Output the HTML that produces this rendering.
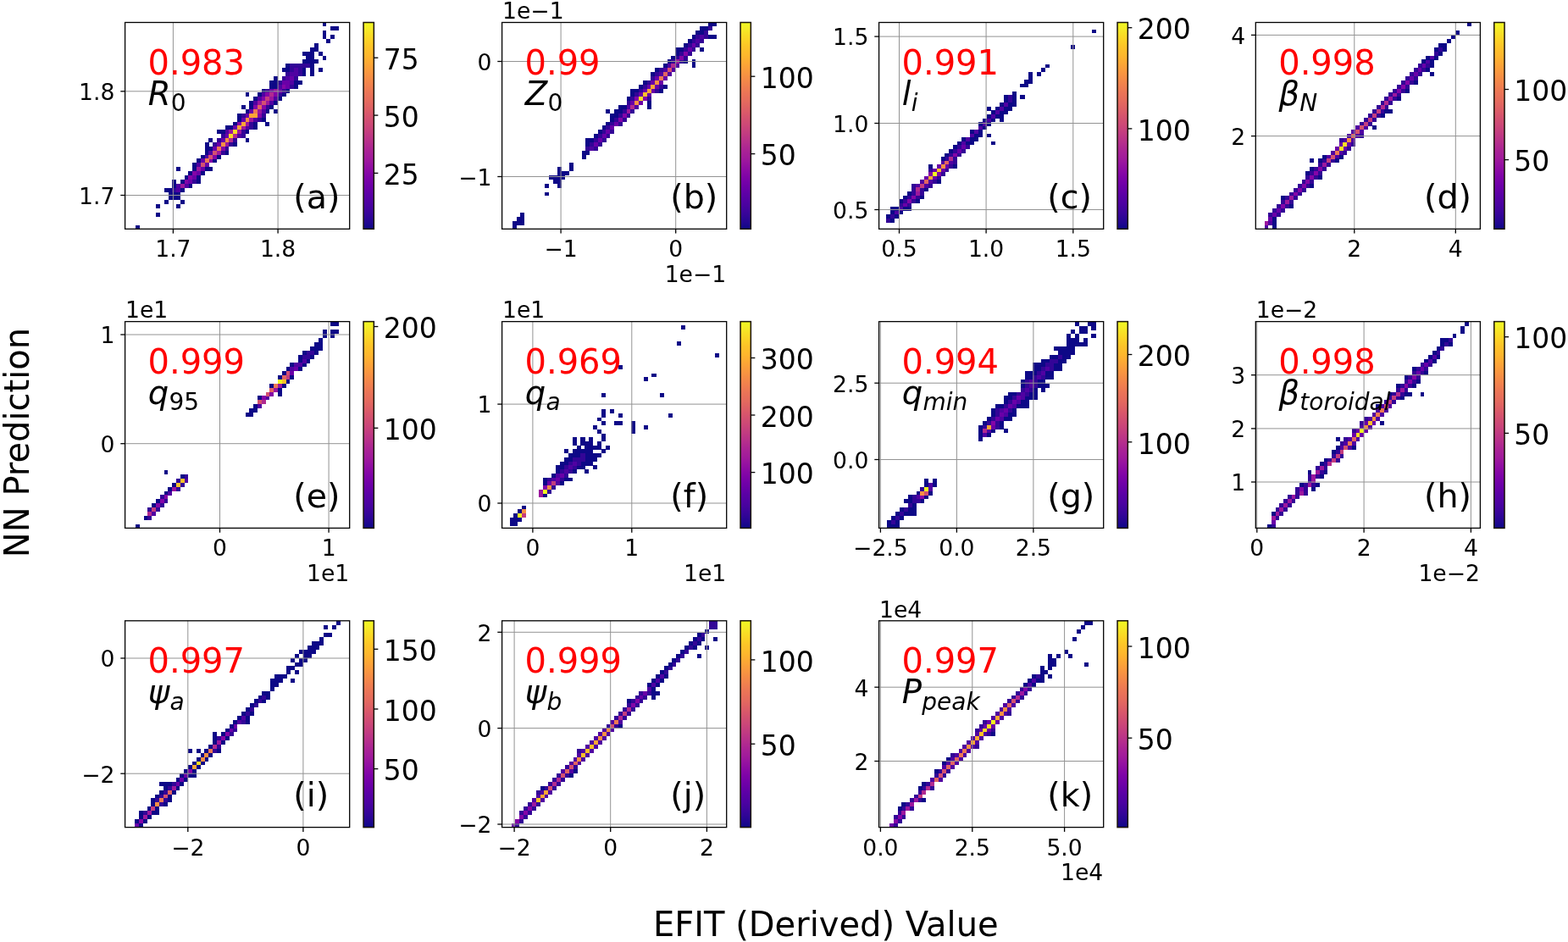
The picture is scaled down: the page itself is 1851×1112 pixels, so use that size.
<!DOCTYPE html>
<html lang="en">
<head>
<meta charset="utf-8">
<title>NN Prediction vs EFIT (Derived) Value</title>
<style>
html,body{margin:0;padding:0;background:#fff;}
body{width:1851px;height:1112px;overflow:hidden;}
svg{display:block;}
svg text{font-family:"DejaVu Sans","Liberation Sans",sans-serif;}
</style>
</head>
<body>
<svg width="1851" height="1112" viewBox="0 0 1851 1112" font-family="'DejaVu Sans', 'Liberation Sans', sans-serif" fill="#000">
<defs><linearGradient id="plasma" x1="0" y1="1" x2="0" y2="0"><stop offset="0" stop-color="#0d0887"/><stop offset="0.03" stop-color="#220690"/><stop offset="0.06" stop-color="#310597"/><stop offset="0.09" stop-color="#3f049c"/><stop offset="0.12" stop-color="#4c02a1"/><stop offset="0.16" stop-color="#5901a5"/><stop offset="0.19" stop-color="#6600a7"/><stop offset="0.22" stop-color="#7201a8"/><stop offset="0.25" stop-color="#7e03a8"/><stop offset="0.28" stop-color="#8a09a5"/><stop offset="0.31" stop-color="#9511a1"/><stop offset="0.34" stop-color="#a01a9c"/><stop offset="0.38" stop-color="#aa2395"/><stop offset="0.41" stop-color="#b32c8e"/><stop offset="0.44" stop-color="#bc3587"/><stop offset="0.47" stop-color="#c43e7f"/><stop offset="0.5" stop-color="#cc4778"/><stop offset="0.53" stop-color="#d24f71"/><stop offset="0.56" stop-color="#d9586a"/><stop offset="0.59" stop-color="#df6263"/><stop offset="0.62" stop-color="#e56b5d"/><stop offset="0.66" stop-color="#eb7556"/><stop offset="0.69" stop-color="#f07f4f"/><stop offset="0.72" stop-color="#f48948"/><stop offset="0.75" stop-color="#f89441"/><stop offset="0.78" stop-color="#fb9f3a"/><stop offset="0.81" stop-color="#fdab33"/><stop offset="0.84" stop-color="#feb72d"/><stop offset="0.88" stop-color="#fdc328"/><stop offset="0.91" stop-color="#fcd025"/><stop offset="0.94" stop-color="#f9dd25"/><stop offset="0.97" stop-color="#f5eb27"/><stop offset="1" stop-color="#f0f921"/></linearGradient><filter id="soft" x="-5%" y="-5%" width="110%" height="110%" color-interpolation-filters="sRGB"><feGaussianBlur stdDeviation="0.6"/></filter><clipPath id="clip-a"><rect x="147.6" y="26.5" width="265.1" height="243.8"/></clipPath><clipPath id="clip-b"><rect x="592.6" y="26.5" width="265.1" height="243.8"/></clipPath><clipPath id="clip-c"><rect x="1037.6" y="26.5" width="265.1" height="243.8"/></clipPath><clipPath id="clip-d"><rect x="1482.3" y="26.5" width="265.1" height="243.8"/></clipPath><clipPath id="clip-e"><rect x="147.6" y="379.6" width="265.1" height="243.8"/></clipPath><clipPath id="clip-f"><rect x="592.6" y="379.6" width="265.1" height="243.8"/></clipPath><clipPath id="clip-g"><rect x="1037.6" y="379.6" width="265.1" height="243.8"/></clipPath><clipPath id="clip-h"><rect x="1482.3" y="379.6" width="265.1" height="243.8"/></clipPath><clipPath id="clip-i"><rect x="147.6" y="732.8" width="265.1" height="243.8"/></clipPath><clipPath id="clip-j"><rect x="592.6" y="732.8" width="265.1" height="243.8"/></clipPath><clipPath id="clip-k"><rect x="1037.6" y="732.8" width="265.1" height="243.8"/></clipPath></defs>
<rect x="0" y="0" width="1851" height="1112" fill="#fff"/>
<g class="panel" id="panel-a">
<g class="cells" clip-path="url(#clip-a)"><g filter="url(#soft)" shape-rendering="crispEdges"><path fill="#0d0887" d="M160.2 265.52h4.89v4.98h-4.89zM184.15 250.89h4.89v4.98h-4.89zM184.15 241.13h4.89v4.98h-4.89zM193.73 236.25h4.89v4.98h-4.89zM193.73 221.62h4.89v4.98h-4.89zM198.52 231.38h4.89v4.98h-4.89zM198.52 226.5h4.89v4.98h-4.89zM198.52 221.62h4.89v4.98h-4.89zM203.31 231.38h4.89v4.98h-4.89zM203.31 226.5h4.89v4.98h-4.89zM203.31 216.74h4.89v4.98h-4.89zM203.31 211.86h4.89v4.98h-4.89zM208.1 241.13h4.89v4.98h-4.89zM208.1 231.38h4.89v4.98h-4.89zM208.1 226.5h4.89v4.98h-4.89zM208.1 197.23h4.89v4.98h-4.89zM212.89 236.25h4.89v4.98h-4.89zM212.89 221.62h4.89v4.98h-4.89zM212.89 211.86h4.89v4.98h-4.89zM217.68 206.99h4.89v4.98h-4.89zM222.47 216.74h4.89v4.98h-4.89zM222.47 202.11h4.89v4.98h-4.89zM227.26 197.23h4.89v4.98h-4.89zM227.26 192.35h4.89v4.98h-4.89zM232.05 211.86h4.89v4.98h-4.89zM232.05 206.99h4.89v4.98h-4.89zM232.05 187.47h4.89v4.98h-4.89zM236.84 202.11h4.89v4.98h-4.89zM236.84 182.6h4.89v4.98h-4.89zM241.63 197.23h4.89v4.98h-4.89zM241.63 177.72h4.89v4.98h-4.89zM241.63 172.84h4.89v4.98h-4.89zM241.63 167.96h4.89v4.98h-4.89zM246.42 197.23h4.89v4.98h-4.89zM246.42 172.84h4.89v4.98h-4.89zM246.42 163.08h4.89v4.98h-4.89zM251.21 187.47h4.89v4.98h-4.89zM256 182.6h4.89v4.98h-4.89zM256 153.33h4.89v4.98h-4.89zM260.79 153.33h4.89v4.98h-4.89zM265.58 177.72h4.89v4.98h-4.89zM265.58 148.45h4.89v4.98h-4.89zM270.37 148.45h4.89v4.98h-4.89zM275.16 167.96h4.89v4.98h-4.89zM275.16 143.57h4.89v4.98h-4.89zM279.95 138.69h4.89v4.98h-4.89zM279.95 133.82h4.89v4.98h-4.89zM284.74 124.06h4.89v4.98h-4.89zM289.53 163.08h4.89v4.98h-4.89zM289.53 153.33h4.89v4.98h-4.89zM289.53 128.94h4.89v4.98h-4.89zM289.53 109.43h4.89v4.98h-4.89zM294.32 124.06h4.89v4.98h-4.89zM294.32 119.18h4.89v4.98h-4.89zM299.11 148.45h4.89v4.98h-4.89zM299.11 143.57h4.89v4.98h-4.89zM299.11 114.3h4.89v4.98h-4.89zM303.9 109.43h4.89v4.98h-4.89zM308.69 138.69h4.89v4.98h-4.89zM308.69 104.55h4.89v4.98h-4.89zM313.48 143.57h4.89v4.98h-4.89zM313.48 128.94h4.89v4.98h-4.89zM318.27 124.06h4.89v4.98h-4.89zM318.27 99.67h4.89v4.98h-4.89zM318.27 94.79h4.89v4.98h-4.89zM323.06 128.94h4.89v4.98h-4.89zM323.06 119.18h4.89v4.98h-4.89zM323.06 99.67h4.89v4.98h-4.89zM323.06 94.79h4.89v4.98h-4.89zM323.06 89.91h4.89v4.98h-4.89zM327.85 114.3h4.89v4.98h-4.89zM332.64 109.43h4.89v4.98h-4.89zM332.64 80.16h4.89v4.98h-4.89zM337.43 104.55h4.89v4.98h-4.89zM337.43 80.16h4.89v4.98h-4.89zM337.43 75.28h4.89v4.98h-4.89zM347.01 99.67h4.89v4.98h-4.89zM347.01 94.79h4.89v4.98h-4.89zM351.8 94.79h4.89v4.98h-4.89zM356.59 85.04h4.89v4.98h-4.89zM356.59 80.16h4.89v4.98h-4.89zM356.59 70.4h4.89v4.98h-4.89zM356.59 60.65h4.89v4.98h-4.89zM361.38 70.4h4.89v4.98h-4.89zM361.38 65.52h4.89v4.98h-4.89zM361.38 60.65h4.89v4.98h-4.89zM366.17 85.04h4.89v4.98h-4.89zM366.17 80.16h4.89v4.98h-4.89zM366.17 75.28h4.89v4.98h-4.89zM366.17 70.4h4.89v4.98h-4.89zM366.17 65.52h4.89v4.98h-4.89zM366.17 60.65h4.89v4.98h-4.89zM366.17 55.77h4.89v4.98h-4.89zM370.96 70.4h4.89v4.98h-4.89zM370.96 55.77h4.89v4.98h-4.89zM370.96 50.89h4.89v4.98h-4.89zM375.75 80.16h4.89v4.98h-4.89zM375.75 60.65h4.89v4.98h-4.89zM380.54 65.52h4.89v4.98h-4.89zM380.54 41.13h4.89v4.98h-4.89zM380.54 36.26h4.89v4.98h-4.89zM380.54 26.5h4.89v4.98h-4.89zM385.33 46.01h4.89v4.98h-4.89zM390.12 41.13h4.89v4.98h-4.89zM390.12 31.38h4.89v4.98h-4.89zM394.91 31.38h4.89v4.98h-4.89z"/><path fill="#330597" d="M203.31 221.62h4.89v4.98h-4.89zM227.26 211.86h4.89v4.98h-4.89zM251.21 167.96h4.89v4.98h-4.89zM256 163.08h4.89v4.98h-4.89zM260.79 177.72h4.89v4.98h-4.89zM260.79 158.21h4.89v4.98h-4.89zM265.58 172.84h4.89v4.98h-4.89zM270.37 167.96h4.89v4.98h-4.89zM275.16 163.08h4.89v4.98h-4.89zM284.74 158.21h4.89v4.98h-4.89zM284.74 153.33h4.89v4.98h-4.89zM284.74 133.82h4.89v4.98h-4.89zM294.32 148.45h4.89v4.98h-4.89zM294.32 143.57h4.89v4.98h-4.89zM303.9 138.69h4.89v4.98h-4.89zM308.69 133.82h4.89v4.98h-4.89zM313.48 124.06h4.89v4.98h-4.89zM313.48 104.55h4.89v4.98h-4.89zM327.85 109.43h4.89v4.98h-4.89zM327.85 94.79h4.89v4.98h-4.89zM332.64 104.55h4.89v4.98h-4.89zM332.64 89.91h4.89v4.98h-4.89zM337.43 85.04h4.89v4.98h-4.89zM342.22 99.67h4.89v4.98h-4.89zM342.22 80.16h4.89v4.98h-4.89zM342.22 75.28h4.89v4.98h-4.89zM347.01 89.91h4.89v4.98h-4.89zM347.01 75.28h4.89v4.98h-4.89zM351.8 85.04h4.89v4.98h-4.89zM351.8 80.16h4.89v4.98h-4.89zM351.8 75.28h4.89v4.98h-4.89zM356.59 75.28h4.89v4.98h-4.89zM361.38 75.28h4.89v4.98h-4.89z"/><path fill="#5002a2" d="M208.1 221.62h4.89v4.98h-4.89zM208.1 216.74h4.89v4.98h-4.89zM217.68 216.74h4.89v4.98h-4.89zM232.05 192.35h4.89v4.98h-4.89zM241.63 182.6h4.89v4.98h-4.89zM246.42 177.72h4.89v4.98h-4.89zM265.58 153.33h4.89v4.98h-4.89zM279.95 158.21h4.89v4.98h-4.89zM289.53 148.45h4.89v4.98h-4.89zM299.11 138.69h4.89v4.98h-4.89zM299.11 119.18h4.89v4.98h-4.89zM303.9 114.3h4.89v4.98h-4.89zM308.69 128.94h4.89v4.98h-4.89zM308.69 109.43h4.89v4.98h-4.89zM318.27 119.18h4.89v4.98h-4.89zM323.06 114.3h4.89v4.98h-4.89zM327.85 99.67h4.89v4.98h-4.89zM337.43 89.91h4.89v4.98h-4.89zM342.22 94.79h4.89v4.98h-4.89zM342.22 85.04h4.89v4.98h-4.89zM347.01 85.04h4.89v4.98h-4.89zM347.01 80.16h4.89v4.98h-4.89z"/><path fill="#9c179e" d="M212.89 216.74h4.89v4.98h-4.89zM232.05 197.23h4.89v4.98h-4.89zM256 177.72h4.89v4.98h-4.89zM265.58 167.96h4.89v4.98h-4.89zM270.37 153.33h4.89v4.98h-4.89zM279.95 153.33h4.89v4.98h-4.89zM284.74 148.45h4.89v4.98h-4.89zM289.53 143.57h4.89v4.98h-4.89zM294.32 138.69h4.89v4.98h-4.89zM303.9 128.94h4.89v4.98h-4.89zM303.9 119.18h4.89v4.98h-4.89zM313.48 119.18h4.89v4.98h-4.89zM318.27 114.3h4.89v4.98h-4.89zM323.06 104.55h4.89v4.98h-4.89z"/><path fill="#8405a7" d="M217.68 211.86h4.89v4.98h-4.89zM222.47 206.99h4.89v4.98h-4.89zM227.26 202.11h4.89v4.98h-4.89zM246.42 187.47h4.89v4.98h-4.89zM251.21 182.6h4.89v4.98h-4.89zM260.79 172.84h4.89v4.98h-4.89zM279.95 143.57h4.89v4.98h-4.89zM299.11 124.06h4.89v4.98h-4.89zM303.9 133.82h4.89v4.98h-4.89zM308.69 124.06h4.89v4.98h-4.89zM308.69 114.3h4.89v4.98h-4.89zM313.48 109.43h4.89v4.98h-4.89zM323.06 109.43h4.89v4.98h-4.89zM332.64 99.67h4.89v4.98h-4.89z"/><path fill="#6a00a8" d="M222.47 211.86h4.89v4.98h-4.89zM227.26 206.99h4.89v4.98h-4.89zM232.05 202.11h4.89v4.98h-4.89zM236.84 197.23h4.89v4.98h-4.89zM236.84 187.47h4.89v4.98h-4.89zM241.63 192.35h4.89v4.98h-4.89zM251.21 172.84h4.89v4.98h-4.89zM256 167.96h4.89v4.98h-4.89zM260.79 163.08h4.89v4.98h-4.89zM265.58 158.21h4.89v4.98h-4.89zM275.16 148.45h4.89v4.98h-4.89zM284.74 138.69h4.89v4.98h-4.89zM289.53 133.82h4.89v4.98h-4.89zM294.32 128.94h4.89v4.98h-4.89zM318.27 104.55h4.89v4.98h-4.89zM327.85 104.55h4.89v4.98h-4.89zM332.64 94.79h4.89v4.98h-4.89zM337.43 99.67h4.89v4.98h-4.89zM337.43 94.79h4.89v4.98h-4.89zM342.22 89.91h4.89v4.98h-4.89z"/><path fill="#d35171" d="M236.84 192.35h4.89v4.98h-4.89zM246.42 182.6h4.89v4.98h-4.89zM251.21 177.72h4.89v4.98h-4.89zM308.69 119.18h4.89v4.98h-4.89z"/><path fill="#ed7953" d="M241.63 187.47h4.89v4.98h-4.89zM256 172.84h4.89v4.98h-4.89zM299.11 128.94h4.89v4.98h-4.89z"/><path fill="#f68f44" d="M260.79 167.96h4.89v4.98h-4.89zM265.58 163.08h4.89v4.98h-4.89zM289.53 138.69h4.89v4.98h-4.89z"/><path fill="#b12a90" d="M270.37 163.08h4.89v4.98h-4.89zM275.16 158.21h4.89v4.98h-4.89zM318.27 109.43h4.89v4.98h-4.89z"/><path fill="#f9dc24" d="M270.37 158.21h4.89v4.98h-4.89zM275.16 153.33h4.89v4.98h-4.89z"/><path fill="#fca636" d="M279.95 148.45h4.89v4.98h-4.89zM284.74 143.57h4.89v4.98h-4.89zM294.32 133.82h4.89v4.98h-4.89zM299.11 133.82h4.89v4.98h-4.89z"/><path fill="#e16462" d="M303.9 124.06h4.89v4.98h-4.89z"/><path fill="#c33d80" d="M313.48 114.3h4.89v4.98h-4.89z"/></g></g>
<g class="grid" stroke="#939393" stroke-width="1.0"><line x1="204.4" y1="26.5" x2="204.4" y2="270.3"/><line x1="328.1" y1="26.5" x2="328.1" y2="270.3"/><line x1="147.6" y1="107.8" x2="412.7" y2="107.8"/><line x1="147.6" y1="230.5" x2="412.7" y2="230.5"/></g>
<g class="ticks" stroke="#000" stroke-width="1.3"><line x1="204.4" y1="270.3" x2="204.4" y2="275.6"/><line x1="328.1" y1="270.3" x2="328.1" y2="275.6"/><line x1="142.3" y1="107.8" x2="147.6" y2="107.8"/><line x1="142.3" y1="230.5" x2="147.6" y2="230.5"/></g>
<rect class="frame" x="147.6" y="26.5" width="265.1" height="243.8" fill="none" stroke="#000" stroke-width="1.3"/>
<text class="r" x="174.5" y="87.5" font-size="40.0" fill="#ff0000">0.983</text>
<text class="sym" x="174.8" y="123.5" font-size="38.6" font-style="italic">R<tspan font-size="28.0" font-style="normal" dx="0.2" dy="7.8">0</tspan></text>
<text class="lab" x="346.3" y="246" font-size="39.6">(a)</text>
<g class="ticklabels" font-size="26.6"><text x="204.4" y="303.3" text-anchor="middle">1.7</text><text x="328.1" y="303.3" text-anchor="middle">1.8</text><text x="135.4" y="118.1" text-anchor="end">1.8</text><text x="135.4" y="240.8" text-anchor="end">1.7</text></g>
<rect class="cbar" x="429.05" y="26.5" width="12.3" height="243.8" fill="url(#plasma)" stroke="#1a1208" stroke-width="1.5"/>
<g class="cticks" stroke="#000" stroke-width="1.3"><line x1="441.35" y1="68.2" x2="446.35" y2="68.2"/><line x1="441.35" y1="136.1" x2="446.35" y2="136.1"/><line x1="441.35" y1="204.4" x2="446.35" y2="204.4"/></g>
<g class="clabels" font-size="33.0"><text x="452.65" y="81.9">75</text><text x="452.65" y="149.8">50</text><text x="452.65" y="218.1">25</text></g>
</g>
<g class="panel" id="panel-b">
<g class="cells" clip-path="url(#clip-b)"><g filter="url(#soft)" shape-rendering="crispEdges"><path fill="#0d0887" d="M604.8 265.52h4.91v4.98h-4.91zM604.8 260.64h4.91v4.98h-4.91zM609.61 260.64h4.91v4.98h-4.91zM609.61 255.77h4.91v4.98h-4.91zM614.42 260.64h4.91v4.98h-4.91zM614.42 255.77h4.91v4.98h-4.91zM614.42 250.89h4.91v4.98h-4.91zM643.3 226.5h4.91v4.98h-4.91zM643.3 216.74h4.91v4.98h-4.91zM648.11 206.99h4.91v4.98h-4.91zM652.92 211.86h4.91v4.98h-4.91zM652.92 206.99h4.91v4.98h-4.91zM657.73 216.74h4.91v4.98h-4.91zM657.73 211.86h4.91v4.98h-4.91zM657.73 206.99h4.91v4.98h-4.91zM657.73 202.11h4.91v4.98h-4.91zM657.73 197.23h4.91v4.98h-4.91zM662.54 206.99h4.91v4.98h-4.91zM662.54 202.11h4.91v4.98h-4.91zM667.36 202.11h4.91v4.98h-4.91zM672.17 197.23h4.91v4.98h-4.91zM672.17 192.35h4.91v4.98h-4.91zM686.6 182.6h4.91v4.98h-4.91zM686.6 177.72h4.91v4.98h-4.91zM691.42 177.72h4.91v4.98h-4.91zM691.42 167.96h4.91v4.98h-4.91zM691.42 163.08h4.91v4.98h-4.91zM696.23 163.08h4.91v4.98h-4.91zM701.04 158.21h4.91v4.98h-4.91zM705.85 153.33h4.91v4.98h-4.91zM710.66 148.45h4.91v4.98h-4.91zM715.48 143.57h4.91v4.98h-4.91zM715.48 128.94h4.91v4.98h-4.91zM720.29 138.69h4.91v4.98h-4.91zM720.29 133.82h4.91v4.98h-4.91zM725.1 133.82h4.91v4.98h-4.91zM725.1 128.94h4.91v4.98h-4.91zM729.91 128.94h4.91v4.98h-4.91zM729.91 124.06h4.91v4.98h-4.91zM734.72 124.06h4.91v4.98h-4.91zM739.54 114.3h4.91v4.98h-4.91zM744.35 109.43h4.91v4.98h-4.91zM744.35 104.55h4.91v4.98h-4.91zM749.16 104.55h4.91v4.98h-4.91zM753.97 99.67h4.91v4.98h-4.91zM758.78 94.79h4.91v4.98h-4.91zM763.6 124.06h4.91v4.98h-4.91zM763.6 119.18h4.91v4.98h-4.91zM768.41 85.04h4.91v4.98h-4.91zM773.22 80.16h4.91v4.98h-4.91zM778.03 104.55h4.91v4.98h-4.91zM782.84 99.67h4.91v4.98h-4.91zM782.84 75.28h4.91v4.98h-4.91zM787.66 70.4h4.91v4.98h-4.91zM792.47 65.52h4.91v4.98h-4.91zM797.28 60.65h4.91v4.98h-4.91zM797.28 55.77h4.91v4.98h-4.91zM802.09 55.77h4.91v4.98h-4.91zM806.9 70.4h4.91v4.98h-4.91zM806.9 50.89h4.91v4.98h-4.91zM811.72 46.01h4.91v4.98h-4.91zM816.53 75.28h4.91v4.98h-4.91zM816.53 70.4h4.91v4.98h-4.91zM816.53 41.13h4.91v4.98h-4.91zM821.34 36.26h4.91v4.98h-4.91zM826.15 55.77h4.91v4.98h-4.91zM826.15 36.26h4.91v4.98h-4.91zM826.15 31.38h4.91v4.98h-4.91zM830.96 31.38h4.91v4.98h-4.91zM835.78 41.13h4.91v4.98h-4.91zM835.78 26.5h4.91v4.98h-4.91zM840.59 41.13h4.91v4.98h-4.91zM840.59 26.5h4.91v4.98h-4.91z"/><path fill="#330597" d="M691.42 172.84h4.91v4.98h-4.91zM696.23 167.96h4.91v4.98h-4.91zM701.04 172.84h4.91v4.98h-4.91zM701.04 163.08h4.91v4.98h-4.91zM705.85 167.96h4.91v4.98h-4.91zM705.85 158.21h4.91v4.98h-4.91zM710.66 163.08h4.91v4.98h-4.91zM710.66 153.33h4.91v4.98h-4.91zM715.48 158.21h4.91v4.98h-4.91zM715.48 148.45h4.91v4.98h-4.91zM720.29 153.33h4.91v4.98h-4.91zM720.29 143.57h4.91v4.98h-4.91zM725.1 138.69h4.91v4.98h-4.91zM729.91 143.57h4.91v4.98h-4.91zM729.91 133.82h4.91v4.98h-4.91zM734.72 138.69h4.91v4.98h-4.91zM734.72 128.94h4.91v4.98h-4.91zM739.54 133.82h4.91v4.98h-4.91zM739.54 119.18h4.91v4.98h-4.91zM744.35 128.94h4.91v4.98h-4.91zM744.35 114.3h4.91v4.98h-4.91zM749.16 109.43h4.91v4.98h-4.91zM753.97 104.55h4.91v4.98h-4.91zM758.78 99.67h4.91v4.98h-4.91zM763.6 114.3h4.91v4.98h-4.91zM763.6 94.79h4.91v4.98h-4.91zM768.41 89.91h4.91v4.98h-4.91zM773.22 104.55h4.91v4.98h-4.91zM773.22 85.04h4.91v4.98h-4.91zM778.03 99.67h4.91v4.98h-4.91zM778.03 80.16h4.91v4.98h-4.91zM792.47 70.4h4.91v4.98h-4.91zM797.28 65.52h4.91v4.98h-4.91zM802.09 70.4h4.91v4.98h-4.91zM802.09 60.65h4.91v4.98h-4.91zM806.9 65.52h4.91v4.98h-4.91zM806.9 55.77h4.91v4.98h-4.91zM811.72 60.65h4.91v4.98h-4.91zM811.72 50.89h4.91v4.98h-4.91zM816.53 55.77h4.91v4.98h-4.91zM816.53 46.01h4.91v4.98h-4.91zM821.34 50.89h4.91v4.98h-4.91zM821.34 41.13h4.91v4.98h-4.91zM826.15 46.01h4.91v4.98h-4.91zM830.96 41.13h4.91v4.98h-4.91zM830.96 36.26h4.91v4.98h-4.91zM835.78 31.38h4.91v4.98h-4.91z"/><path fill="#5002a2" d="M696.23 172.84h4.91v4.98h-4.91zM739.54 124.06h4.91v4.98h-4.91zM749.16 124.06h4.91v4.98h-4.91zM778.03 85.04h4.91v4.98h-4.91zM782.84 80.16h4.91v4.98h-4.91zM787.66 85.04h4.91v4.98h-4.91zM787.66 75.28h4.91v4.98h-4.91zM792.47 80.16h4.91v4.98h-4.91zM797.28 75.28h4.91v4.98h-4.91zM821.34 46.01h4.91v4.98h-4.91zM826.15 41.13h4.91v4.98h-4.91z"/><path fill="#6a00a8" d="M701.04 167.96h4.91v4.98h-4.91zM705.85 163.08h4.91v4.98h-4.91zM710.66 158.21h4.91v4.98h-4.91zM715.48 153.33h4.91v4.98h-4.91zM720.29 148.45h4.91v4.98h-4.91zM725.1 143.57h4.91v4.98h-4.91zM744.35 119.18h4.91v4.98h-4.91zM753.97 119.18h4.91v4.98h-4.91zM753.97 109.43h4.91v4.98h-4.91zM758.78 104.55h4.91v4.98h-4.91zM763.6 109.43h4.91v4.98h-4.91zM763.6 99.67h4.91v4.98h-4.91zM768.41 104.55h4.91v4.98h-4.91zM768.41 94.79h4.91v4.98h-4.91zM773.22 99.67h4.91v4.98h-4.91zM773.22 89.91h4.91v4.98h-4.91zM778.03 94.79h4.91v4.98h-4.91zM782.84 89.91h4.91v4.98h-4.91zM811.72 55.77h4.91v4.98h-4.91zM816.53 50.89h4.91v4.98h-4.91z"/><path fill="#8405a7" d="M729.91 138.69h4.91v4.98h-4.91zM734.72 133.82h4.91v4.98h-4.91zM749.16 114.3h4.91v4.98h-4.91zM758.78 114.3h4.91v4.98h-4.91zM802.09 65.52h4.91v4.98h-4.91zM806.9 60.65h4.91v4.98h-4.91z"/><path fill="#9c179e" d="M739.54 128.94h4.91v4.98h-4.91zM797.28 70.4h4.91v4.98h-4.91z"/><path fill="#b12a90" d="M744.35 124.06h4.91v4.98h-4.91zM792.47 75.28h4.91v4.98h-4.91z"/><path fill="#f68f44" d="M749.16 119.18h4.91v4.98h-4.91zM773.22 94.79h4.91v4.98h-4.91z"/><path fill="#f9dc24" d="M753.97 114.3h4.91v4.98h-4.91z"/><path fill="#fec029" d="M758.78 109.43h4.91v4.98h-4.91z"/><path fill="#fca636" d="M763.6 104.55h4.91v4.98h-4.91zM768.41 99.67h4.91v4.98h-4.91z"/><path fill="#ed7953" d="M778.03 89.91h4.91v4.98h-4.91z"/><path fill="#e16462" d="M782.84 85.04h4.91v4.98h-4.91z"/><path fill="#d35171" d="M787.66 80.16h4.91v4.98h-4.91z"/></g></g>
<g class="grid" stroke="#939393" stroke-width="1.0"><line x1="662.1" y1="26.5" x2="662.1" y2="270.3"/><line x1="797.7" y1="26.5" x2="797.7" y2="270.3"/><line x1="592.6" y1="72.5" x2="857.7" y2="72.5"/><line x1="592.6" y1="208.5" x2="857.7" y2="208.5"/></g>
<g class="ticks" stroke="#000" stroke-width="1.3"><line x1="662.1" y1="270.3" x2="662.1" y2="275.6"/><line x1="797.7" y1="270.3" x2="797.7" y2="275.6"/><line x1="587.3" y1="72.5" x2="592.6" y2="72.5"/><line x1="587.3" y1="208.5" x2="592.6" y2="208.5"/></g>
<rect class="frame" x="592.6" y="26.5" width="265.1" height="243.8" fill="none" stroke="#000" stroke-width="1.3"/>
<text class="r" x="619.5" y="87.5" font-size="40.0" fill="#ff0000">0.99</text>
<text class="sym" x="619.8" y="123.5" font-size="38.6" font-style="italic">Z<tspan font-size="28.0" font-style="normal" dx="0.2" dy="7.8">0</tspan></text>
<text class="lab" x="791.3" y="246" font-size="39.6">(b)</text>
<g class="ticklabels" font-size="26.6"><text x="662.1" y="303.3" text-anchor="middle">−1</text><text x="797.7" y="303.3" text-anchor="middle">0</text><text x="580.4" y="82.8" text-anchor="end">0</text><text x="580.4" y="218.8" text-anchor="end">−1</text><text x="593.1" y="22.3" text-anchor="start">1e−1</text><text x="857.2" y="332.5" text-anchor="end">1e−1</text></g>
<rect class="cbar" x="874.05" y="26.5" width="12.3" height="243.8" fill="url(#plasma)" stroke="#1a1208" stroke-width="1.5"/>
<g class="cticks" stroke="#000" stroke-width="1.3"><line x1="886.35" y1="90.2" x2="891.35" y2="90.2"/><line x1="886.35" y1="181.6" x2="891.35" y2="181.6"/></g>
<g class="clabels" font-size="33.0"><text x="897.65" y="103.9">100</text><text x="897.65" y="195.3">50</text></g>
</g>
<g class="panel" id="panel-c">
<g class="cells" clip-path="url(#clip-c)"><g filter="url(#soft)" shape-rendering="crispEdges"><path fill="#330597" d="M1046.2 257.9h5.05v4.65h-5.05zM1051.15 253.34h5.05v4.65h-5.05zM1061.04 239.69h5.05v4.65h-5.05zM1065.98 235.13h5.05v4.65h-5.05zM1070.93 239.69h5.05v4.65h-5.05zM1070.93 230.58h5.05v4.65h-5.05zM1075.88 235.13h5.05v4.65h-5.05zM1075.88 226.03h5.05v4.65h-5.05zM1075.88 221.47h5.05v4.65h-5.05zM1075.88 216.92h5.05v4.65h-5.05zM1080.82 230.58h5.05v4.65h-5.05zM1085.77 226.03h5.05v4.65h-5.05zM1085.77 221.47h5.05v4.65h-5.05zM1095.66 216.92h5.05v4.65h-5.05zM1095.66 198.71h5.05v4.65h-5.05zM1100.61 212.37h5.05v4.65h-5.05zM1105.55 207.81h5.05v4.65h-5.05zM1110.5 203.26h5.05v4.65h-5.05zM1115.44 198.71h5.05v4.65h-5.05zM1115.44 185.05h5.05v4.65h-5.05zM1120.39 194.15h5.05v4.65h-5.05zM1120.39 180.5h5.05v4.65h-5.05zM1125.34 189.6h5.05v4.65h-5.05zM1125.34 185.05h5.05v4.65h-5.05zM1125.34 175.94h5.05v4.65h-5.05zM1130.28 180.5h5.05v4.65h-5.05zM1130.28 171.39h5.05v4.65h-5.05zM1135.23 175.94h5.05v4.65h-5.05zM1140.17 171.39h5.05v4.65h-5.05zM1189.63 116.75h5.05v4.65h-5.05zM1189.63 112.2h5.05v4.65h-5.05z"/><path fill="#0d0887" d="M1046.2 253.34h5.05v4.65h-5.05zM1051.15 257.9h5.05v4.65h-5.05zM1051.15 248.79h5.05v4.65h-5.05zM1051.15 244.24h5.05v4.65h-5.05zM1056.09 253.34h5.05v4.65h-5.05zM1056.09 244.24h5.05v4.65h-5.05zM1061.04 248.79h5.05v4.65h-5.05zM1061.04 235.13h5.05v4.65h-5.05zM1065.98 244.24h5.05v4.65h-5.05zM1065.98 230.58h5.05v4.65h-5.05zM1070.93 244.24h5.05v4.65h-5.05zM1070.93 226.03h5.05v4.65h-5.05zM1080.82 235.13h5.05v4.65h-5.05zM1085.77 230.58h5.05v4.65h-5.05zM1090.71 221.47h5.05v4.65h-5.05zM1095.66 194.15h5.05v4.65h-5.05zM1105.55 212.37h5.05v4.65h-5.05zM1110.5 185.05h5.05v4.65h-5.05zM1115.44 180.5h5.05v4.65h-5.05zM1120.39 175.94h5.05v4.65h-5.05zM1125.34 194.15h5.05v4.65h-5.05zM1125.34 171.39h5.05v4.65h-5.05zM1130.28 166.84h5.05v4.65h-5.05zM1135.23 162.28h5.05v4.65h-5.05zM1140.17 166.84h5.05v4.65h-5.05zM1145.12 166.84h5.05v4.65h-5.05zM1145.12 162.28h5.05v4.65h-5.05zM1145.12 153.18h5.05v4.65h-5.05zM1150.07 162.28h5.05v4.65h-5.05zM1150.07 157.73h5.05v4.65h-5.05zM1155.01 157.73h5.05v4.65h-5.05zM1155.01 153.18h5.05v4.65h-5.05zM1155.01 144.07h5.05v4.65h-5.05zM1159.96 148.62h5.05v4.65h-5.05zM1159.96 139.52h5.05v4.65h-5.05zM1164.9 157.73h5.05v4.65h-5.05zM1164.9 144.07h5.05v4.65h-5.05zM1164.9 134.97h5.05v4.65h-5.05zM1164.9 125.86h5.05v4.65h-5.05zM1169.85 166.84h5.05v4.65h-5.05zM1169.85 139.52h5.05v4.65h-5.05zM1169.85 130.41h5.05v4.65h-5.05zM1174.8 134.97h5.05v4.65h-5.05zM1174.8 125.86h5.05v4.65h-5.05zM1179.74 139.52h5.05v4.65h-5.05zM1179.74 134.97h5.05v4.65h-5.05zM1179.74 130.41h5.05v4.65h-5.05zM1179.74 121.31h5.05v4.65h-5.05zM1184.69 130.41h5.05v4.65h-5.05zM1184.69 125.86h5.05v4.65h-5.05zM1184.69 116.75h5.05v4.65h-5.05zM1184.69 112.2h5.05v4.65h-5.05zM1189.63 125.86h5.05v4.65h-5.05zM1189.63 121.31h5.05v4.65h-5.05zM1194.58 121.31h5.05v4.65h-5.05zM1194.58 116.75h5.05v4.65h-5.05zM1194.58 112.2h5.05v4.65h-5.05zM1194.58 107.65h5.05v4.65h-5.05zM1204.47 112.2h5.05v4.65h-5.05zM1204.47 98.54h5.05v4.65h-5.05zM1209.42 98.54h5.05v4.65h-5.05zM1209.42 93.99h5.05v4.65h-5.05zM1214.36 93.99h5.05v4.65h-5.05zM1214.36 89.44h5.05v4.65h-5.05zM1214.36 84.88h5.05v4.65h-5.05zM1224.26 84.88h5.05v4.65h-5.05zM1229.2 80.33h5.05v4.65h-5.05zM1234.15 75.78h5.05v4.65h-5.05zM1263.82 53.01h5.05v4.65h-5.05zM1288.55 34.8h5.05v4.65h-5.05z"/><path fill="#5002a2" d="M1056.09 248.79h5.05v4.65h-5.05zM1061.04 244.24h5.05v4.65h-5.05zM1080.82 216.92h5.05v4.65h-5.05zM1085.77 212.37h5.05v4.65h-5.05zM1090.71 216.92h5.05v4.65h-5.05zM1095.66 212.37h5.05v4.65h-5.05zM1110.5 189.6h5.05v4.65h-5.05zM1120.39 189.6h5.05v4.65h-5.05zM1135.23 166.84h5.05v4.65h-5.05zM1140.17 162.28h5.05v4.65h-5.05zM1145.12 157.73h5.05v4.65h-5.05zM1150.07 153.18h5.05v4.65h-5.05zM1155.01 148.62h5.05v4.65h-5.05zM1159.96 144.07h5.05v4.65h-5.05zM1164.9 139.52h5.05v4.65h-5.05zM1169.85 134.97h5.05v4.65h-5.05zM1174.8 130.41h5.05v4.65h-5.05zM1179.74 125.86h5.05v4.65h-5.05zM1184.69 121.31h5.05v4.65h-5.05z"/><path fill="#6a00a8" d="M1065.98 239.69h5.05v4.65h-5.05zM1090.71 207.81h5.05v4.65h-5.05zM1100.61 207.81h5.05v4.65h-5.05zM1100.61 198.71h5.05v4.65h-5.05zM1105.55 194.15h5.05v4.65h-5.05zM1110.5 198.71h5.05v4.65h-5.05zM1115.44 194.15h5.05v4.65h-5.05zM1130.28 175.94h5.05v4.65h-5.05zM1135.23 171.39h5.05v4.65h-5.05z"/><path fill="#8405a7" d="M1070.93 235.13h5.05v4.65h-5.05zM1075.88 230.58h5.05v4.65h-5.05zM1095.66 203.26h5.05v4.65h-5.05zM1105.55 203.26h5.05v4.65h-5.05zM1125.34 180.5h5.05v4.65h-5.05z"/><path fill="#9c179e" d="M1080.82 226.03h5.05v4.65h-5.05z"/><path fill="#b12a90" d="M1080.82 221.47h5.05v4.65h-5.05zM1120.39 185.05h5.05v4.65h-5.05z"/><path fill="#c33d80" d="M1085.77 216.92h5.05v4.65h-5.05z"/><path fill="#e16462" d="M1090.71 212.37h5.05v4.65h-5.05zM1115.44 189.6h5.05v4.65h-5.05z"/><path fill="#fca636" d="M1095.66 207.81h5.05v4.65h-5.05z"/><path fill="#f0f921" d="M1100.61 203.26h5.05v4.65h-5.05z"/><path fill="#fec029" d="M1105.55 198.71h5.05v4.65h-5.05z"/><path fill="#f68f44" d="M1110.5 194.15h5.05v4.65h-5.05z"/></g></g>
<g class="grid" stroke="#939393" stroke-width="1.0"><line x1="1061.5" y1="26.5" x2="1061.5" y2="270.3"/><line x1="1164.1" y1="26.5" x2="1164.1" y2="270.3"/><line x1="1266.8" y1="26.5" x2="1266.8" y2="270.3"/><line x1="1037.6" y1="43.1" x2="1302.7" y2="43.1"/><line x1="1037.6" y1="145.5" x2="1302.7" y2="145.5"/><line x1="1037.6" y1="247.5" x2="1302.7" y2="247.5"/></g>
<g class="ticks" stroke="#000" stroke-width="1.3"><line x1="1061.5" y1="270.3" x2="1061.5" y2="275.6"/><line x1="1164.1" y1="270.3" x2="1164.1" y2="275.6"/><line x1="1266.8" y1="270.3" x2="1266.8" y2="275.6"/><line x1="1032.3" y1="43.1" x2="1037.6" y2="43.1"/><line x1="1032.3" y1="145.5" x2="1037.6" y2="145.5"/><line x1="1032.3" y1="247.5" x2="1037.6" y2="247.5"/></g>
<rect class="frame" x="1037.6" y="26.5" width="265.1" height="243.8" fill="none" stroke="#000" stroke-width="1.3"/>
<text class="r" x="1064.5" y="87.5" font-size="40.0" fill="#ff0000">0.991</text>
<text class="sym" x="1064.8" y="123.5" font-size="38.6" font-style="italic">l<tspan font-size="28.0" font-style="italic" dx="0.2" dy="7.8">i</tspan></text>
<text class="lab" x="1236.3" y="246" font-size="39.6">(c)</text>
<g class="ticklabels" font-size="26.6"><text x="1061.5" y="303.3" text-anchor="middle">0.5</text><text x="1164.1" y="303.3" text-anchor="middle">1.0</text><text x="1266.8" y="303.3" text-anchor="middle">1.5</text><text x="1025.4" y="53.4" text-anchor="end">1.5</text><text x="1025.4" y="155.8" text-anchor="end">1.0</text><text x="1025.4" y="257.8" text-anchor="end">0.5</text></g>
<rect class="cbar" x="1319.05" y="26.5" width="12.3" height="243.8" fill="url(#plasma)" stroke="#1a1208" stroke-width="1.5"/>
<g class="cticks" stroke="#000" stroke-width="1.3"><line x1="1331.35" y1="32.7" x2="1336.35" y2="32.7"/><line x1="1331.35" y1="151.9" x2="1336.35" y2="151.9"/></g>
<g class="clabels" font-size="33.0"><text x="1342.65" y="46.4">200</text><text x="1342.65" y="165.6">100</text></g>
</g>
<g class="panel" id="panel-d">
<g class="cells" clip-path="url(#clip-d)"><g filter="url(#soft)" shape-rendering="crispEdges"><path fill="#5002a2" d="M1492.5 265.52h4.99v4.98h-4.99zM1497.39 260.64h4.99v4.98h-4.99zM1565.91 182.6h4.99v4.98h-4.99zM1570.8 177.72h4.99v4.98h-4.99zM1575.7 182.6h4.99v4.98h-4.99zM1580.59 177.72h4.99v4.98h-4.99zM1585.49 163.08h4.99v4.98h-4.99zM1590.38 158.21h4.99v4.98h-4.99zM1595.27 163.08h4.99v4.98h-4.99zM1595.27 153.33h4.99v4.98h-4.99zM1600.17 158.21h4.99v4.98h-4.99zM1600.17 148.45h4.99v4.98h-4.99zM1605.06 153.33h4.99v4.98h-4.99zM1609.96 148.45h4.99v4.98h-4.99zM1683.37 70.4h4.99v4.98h-4.99zM1688.26 65.52h4.99v4.98h-4.99z"/><path fill="#9c179e" d="M1492.5 260.64h4.99v4.98h-4.99zM1516.97 236.25h4.99v4.98h-4.99zM1521.86 231.38h4.99v4.98h-4.99zM1561.02 192.35h4.99v4.98h-4.99zM1639.32 114.3h4.99v4.98h-4.99zM1644.21 109.43h4.99v4.98h-4.99z"/><path fill="#6a00a8" d="M1497.39 255.77h4.99v4.98h-4.99zM1502.29 250.89h4.99v4.98h-4.99zM1507.18 246.01h4.99v4.98h-4.99zM1575.7 172.84h4.99v4.98h-4.99zM1580.59 167.96h4.99v4.98h-4.99zM1585.49 172.84h4.99v4.98h-4.99zM1590.38 167.96h4.99v4.98h-4.99zM1663.79 89.91h4.99v4.98h-4.99zM1668.68 85.04h4.99v4.98h-4.99zM1673.58 80.16h4.99v4.98h-4.99zM1678.47 75.28h4.99v4.98h-4.99z"/><path fill="#330597" d="M1497.39 250.89h4.99v4.98h-4.99zM1502.29 246.01h4.99v4.98h-4.99zM1507.18 250.89h4.99v4.98h-4.99zM1507.18 241.13h4.99v4.98h-4.99zM1512.08 246.01h4.99v4.98h-4.99zM1512.08 236.25h4.99v4.98h-4.99zM1516.97 241.13h4.99v4.98h-4.99zM1516.97 231.38h4.99v4.98h-4.99zM1521.86 236.25h4.99v4.98h-4.99zM1521.86 226.5h4.99v4.98h-4.99zM1526.76 231.38h4.99v4.98h-4.99zM1526.76 221.62h4.99v4.98h-4.99zM1531.65 226.5h4.99v4.98h-4.99zM1531.65 216.74h4.99v4.98h-4.99zM1536.55 221.62h4.99v4.98h-4.99zM1536.55 211.86h4.99v4.98h-4.99zM1541.44 216.74h4.99v4.98h-4.99zM1541.44 206.99h4.99v4.98h-4.99zM1546.33 211.86h4.99v4.98h-4.99zM1546.33 202.11h4.99v4.98h-4.99zM1551.23 206.99h4.99v4.98h-4.99zM1551.23 197.23h4.99v4.98h-4.99zM1556.12 202.11h4.99v4.98h-4.99zM1556.12 192.35h4.99v4.98h-4.99zM1561.02 197.23h4.99v4.98h-4.99zM1561.02 187.47h4.99v4.98h-4.99zM1565.91 192.35h4.99v4.98h-4.99zM1570.8 187.47h4.99v4.98h-4.99zM1580.59 163.08h4.99v4.98h-4.99zM1585.49 177.72h4.99v4.98h-4.99zM1590.38 172.84h4.99v4.98h-4.99zM1595.27 167.96h4.99v4.98h-4.99zM1605.06 158.21h4.99v4.98h-4.99zM1605.06 143.57h4.99v4.98h-4.99zM1609.96 138.69h4.99v4.98h-4.99zM1614.85 143.57h4.99v4.98h-4.99zM1614.85 133.82h4.99v4.98h-4.99zM1619.74 138.69h4.99v4.98h-4.99zM1619.74 128.94h4.99v4.98h-4.99zM1624.64 133.82h4.99v4.98h-4.99zM1624.64 124.06h4.99v4.98h-4.99zM1629.53 128.94h4.99v4.98h-4.99zM1629.53 119.18h4.99v4.98h-4.99zM1634.43 124.06h4.99v4.98h-4.99zM1634.43 114.3h4.99v4.98h-4.99zM1639.32 119.18h4.99v4.98h-4.99zM1639.32 109.43h4.99v4.98h-4.99zM1644.21 114.3h4.99v4.98h-4.99zM1644.21 104.55h4.99v4.98h-4.99zM1649.11 109.43h4.99v4.98h-4.99zM1649.11 99.67h4.99v4.98h-4.99zM1654 104.55h4.99v4.98h-4.99zM1654 94.79h4.99v4.98h-4.99zM1658.9 99.67h4.99v4.98h-4.99zM1658.9 89.91h4.99v4.98h-4.99zM1663.79 94.79h4.99v4.98h-4.99zM1663.79 85.04h4.99v4.98h-4.99zM1668.68 89.91h4.99v4.98h-4.99zM1668.68 80.16h4.99v4.98h-4.99zM1673.58 85.04h4.99v4.98h-4.99zM1673.58 75.28h4.99v4.98h-4.99zM1678.47 80.16h4.99v4.98h-4.99zM1683.37 75.28h4.99v4.98h-4.99zM1693.15 60.65h4.99v4.98h-4.99zM1698.05 55.77h4.99v4.98h-4.99z"/><path fill="#0d0887" d="M1502.29 265.52h4.99v4.98h-4.99zM1502.29 260.64h4.99v4.98h-4.99zM1502.29 255.77h4.99v4.98h-4.99zM1512.08 231.38h4.99v4.98h-4.99zM1521.86 241.13h4.99v4.98h-4.99zM1541.44 202.11h4.99v4.98h-4.99zM1546.33 216.74h4.99v4.98h-4.99zM1546.33 197.23h4.99v4.98h-4.99zM1546.33 187.47h4.99v4.98h-4.99zM1556.12 206.99h4.99v4.98h-4.99zM1556.12 187.47h4.99v4.98h-4.99zM1561.02 182.6h4.99v4.98h-4.99zM1575.7 187.47h4.99v4.98h-4.99zM1580.59 182.6h4.99v4.98h-4.99zM1619.74 148.45h4.99v4.98h-4.99zM1629.53 133.82h4.99v4.98h-4.99zM1634.43 128.94h4.99v4.98h-4.99zM1639.32 128.94h4.99v4.98h-4.99zM1649.11 114.3h4.99v4.98h-4.99zM1658.9 104.55h4.99v4.98h-4.99zM1668.68 94.79h4.99v4.98h-4.99zM1678.47 70.4h4.99v4.98h-4.99zM1683.37 80.16h4.99v4.98h-4.99zM1683.37 65.52h4.99v4.98h-4.99zM1688.26 85.04h4.99v4.98h-4.99zM1688.26 75.28h4.99v4.98h-4.99zM1688.26 70.4h4.99v4.98h-4.99zM1693.15 65.52h4.99v4.98h-4.99zM1693.15 55.77h4.99v4.98h-4.99zM1698.05 60.65h4.99v4.98h-4.99zM1698.05 50.89h4.99v4.98h-4.99zM1702.94 55.77h4.99v4.98h-4.99zM1702.94 50.89h4.99v4.98h-4.99zM1707.84 46.01h4.99v4.98h-4.99zM1712.73 41.13h4.99v4.98h-4.99zM1717.62 36.26h4.99v4.98h-4.99zM1732.31 26.5h4.99v4.98h-4.99z"/><path fill="#8405a7" d="M1512.08 241.13h4.99v4.98h-4.99zM1526.76 226.5h4.99v4.98h-4.99zM1531.65 221.62h4.99v4.98h-4.99zM1536.55 216.74h4.99v4.98h-4.99zM1541.44 211.86h4.99v4.98h-4.99zM1546.33 206.99h4.99v4.98h-4.99zM1551.23 202.11h4.99v4.98h-4.99zM1556.12 197.23h4.99v4.98h-4.99zM1649.11 104.55h4.99v4.98h-4.99zM1654 99.67h4.99v4.98h-4.99zM1658.9 94.79h4.99v4.98h-4.99z"/><path fill="#c33d80" d="M1565.91 187.47h4.99v4.98h-4.99zM1609.96 143.57h4.99v4.98h-4.99zM1614.85 138.69h4.99v4.98h-4.99zM1619.74 133.82h4.99v4.98h-4.99zM1624.64 128.94h4.99v4.98h-4.99z"/><path fill="#d35171" d="M1570.8 182.6h4.99v4.98h-4.99zM1600.17 153.33h4.99v4.98h-4.99zM1605.06 148.45h4.99v4.98h-4.99z"/><path fill="#ed7953" d="M1575.7 177.72h4.99v4.98h-4.99z"/><path fill="#f9dc24" d="M1580.59 172.84h4.99v4.98h-4.99zM1585.49 167.96h4.99v4.98h-4.99z"/><path fill="#f68f44" d="M1590.38 163.08h4.99v4.98h-4.99z"/><path fill="#e16462" d="M1595.27 158.21h4.99v4.98h-4.99z"/><path fill="#b12a90" d="M1629.53 124.06h4.99v4.98h-4.99zM1634.43 119.18h4.99v4.98h-4.99z"/></g></g>
<g class="grid" stroke="#939393" stroke-width="1.0"><line x1="1598.8" y1="26.5" x2="1598.8" y2="270.3"/><line x1="1718.3" y1="26.5" x2="1718.3" y2="270.3"/><line x1="1482.3" y1="41.4" x2="1747.4" y2="41.4"/><line x1="1482.3" y1="160.6" x2="1747.4" y2="160.6"/></g>
<g class="ticks" stroke="#000" stroke-width="1.3"><line x1="1598.8" y1="270.3" x2="1598.8" y2="275.6"/><line x1="1718.3" y1="270.3" x2="1718.3" y2="275.6"/><line x1="1477" y1="41.4" x2="1482.3" y2="41.4"/><line x1="1477" y1="160.6" x2="1482.3" y2="160.6"/></g>
<rect class="frame" x="1482.3" y="26.5" width="265.1" height="243.8" fill="none" stroke="#000" stroke-width="1.3"/>
<text class="r" x="1509.2" y="87.5" font-size="40.0" fill="#ff0000">0.998</text>
<text class="sym" x="1509.5" y="123.5" font-size="38.6" font-style="italic">β<tspan font-size="28.0" font-style="italic" dx="0.2" dy="7.8">N</tspan></text>
<text class="lab" x="1681" y="246" font-size="39.6">(d)</text>
<g class="ticklabels" font-size="26.6"><text x="1598.8" y="303.3" text-anchor="middle">2</text><text x="1718.3" y="303.3" text-anchor="middle">4</text><text x="1470.1" y="51.7" text-anchor="end">4</text><text x="1470.1" y="170.9" text-anchor="end">2</text></g>
<rect class="cbar" x="1763.75" y="26.5" width="12.3" height="243.8" fill="url(#plasma)" stroke="#1a1208" stroke-width="1.5"/>
<g class="cticks" stroke="#000" stroke-width="1.3"><line x1="1776.05" y1="105.5" x2="1781.05" y2="105.5"/><line x1="1776.05" y1="188.6" x2="1781.05" y2="188.6"/></g>
<g class="clabels" font-size="33.0"><text x="1787.35" y="119.2">100</text><text x="1787.35" y="202.3">50</text></g>
</g>
<g class="panel" id="panel-e">
<g class="cells" clip-path="url(#clip-e)"><g filter="url(#soft)" shape-rendering="crispEdges"><path fill="#0d0887" d="M160 618.53h4.9v4.97h-4.9zM169.6 608.78h4.9v4.97h-4.9zM179.19 594.16h4.9v4.97h-4.9zM183.99 589.28h4.9v4.97h-4.9zM193.59 579.53h4.9v4.97h-4.9zM193.59 555.16h4.9v4.97h-4.9zM198.38 574.66h4.9v4.97h-4.9zM203.18 569.79h4.9v4.97h-4.9zM212.78 560.04h4.9v4.97h-4.9zM289.55 486.93h4.9v4.97h-4.9zM294.34 486.93h4.9v4.97h-4.9zM294.34 482.05h4.9v4.97h-4.9zM299.14 482.05h4.9v4.97h-4.9zM299.14 477.18h4.9v4.97h-4.9zM303.94 467.43h4.9v4.97h-4.9zM318.33 452.81h4.9v4.97h-4.9zM327.93 462.56h4.9v4.97h-4.9zM327.93 457.68h4.9v4.97h-4.9zM327.93 443.06h4.9v4.97h-4.9zM332.73 452.81h4.9v4.97h-4.9zM332.73 438.19h4.9v4.97h-4.9zM337.53 447.94h4.9v4.97h-4.9zM337.53 433.31h4.9v4.97h-4.9zM342.32 443.06h4.9v4.97h-4.9zM342.32 428.44h4.9v4.97h-4.9zM351.92 433.31h4.9v4.97h-4.9zM351.92 423.57h4.9v4.97h-4.9zM351.92 418.69h4.9v4.97h-4.9zM356.72 428.44h4.9v4.97h-4.9zM356.72 413.82h4.9v4.97h-4.9zM361.52 423.57h4.9v4.97h-4.9zM366.31 418.69h4.9v4.97h-4.9zM366.31 408.94h4.9v4.97h-4.9zM371.11 413.82h4.9v4.97h-4.9zM371.11 408.94h4.9v4.97h-4.9zM371.11 404.07h4.9v4.97h-4.9zM375.91 408.94h4.9v4.97h-4.9zM375.91 404.07h4.9v4.97h-4.9zM375.91 399.2h4.9v4.97h-4.9zM380.71 394.32h4.9v4.97h-4.9zM380.71 389.45h4.9v4.97h-4.9zM390.3 394.32h4.9v4.97h-4.9zM390.3 389.45h4.9v4.97h-4.9zM390.3 379.7h4.9v4.97h-4.9zM395.1 389.45h4.9v4.97h-4.9zM395.1 379.7h4.9v4.97h-4.9z"/><path fill="#330597" d="M174.39 608.78h4.9v4.97h-4.9zM174.39 599.03h4.9v4.97h-4.9zM183.99 599.03h4.9v4.97h-4.9zM188.79 594.16h4.9v4.97h-4.9zM188.79 584.41h4.9v4.97h-4.9zM193.59 589.28h4.9v4.97h-4.9zM207.98 574.66h4.9v4.97h-4.9zM207.98 564.91h4.9v4.97h-4.9zM212.78 569.79h4.9v4.97h-4.9zM217.58 560.04h4.9v4.97h-4.9zM356.72 418.69h4.9v4.97h-4.9zM361.52 418.69h4.9v4.97h-4.9zM361.52 413.82h4.9v4.97h-4.9zM366.31 413.82h4.9v4.97h-4.9z"/><path fill="#b12a90" d="M174.39 603.9h4.9v4.97h-4.9zM308.74 472.31h4.9v4.97h-4.9z"/><path fill="#5002a2" d="M179.19 603.9h4.9v4.97h-4.9zM198.38 579.53h4.9v4.97h-4.9zM217.58 564.91h4.9v4.97h-4.9zM303.94 477.18h4.9v4.97h-4.9zM313.54 467.43h4.9v4.97h-4.9zM342.32 433.31h4.9v4.97h-4.9zM347.12 428.44h4.9v4.97h-4.9zM351.92 428.44h4.9v4.97h-4.9zM356.72 423.57h4.9v4.97h-4.9z"/><path fill="#c33d80" d="M179.19 599.03h4.9v4.97h-4.9zM337.53 443.06h4.9v4.97h-4.9z"/><path fill="#8405a7" d="M183.99 594.16h4.9v4.97h-4.9zM188.79 589.28h4.9v4.97h-4.9zM193.59 584.41h4.9v4.97h-4.9zM308.74 467.43h4.9v4.97h-4.9zM318.33 462.56h4.9v4.97h-4.9z"/><path fill="#9c179e" d="M203.18 574.66h4.9v4.97h-4.9zM323.13 457.68h4.9v4.97h-4.9zM327.93 452.81h4.9v4.97h-4.9z"/><path fill="#fec029" d="M207.98 569.79h4.9v4.97h-4.9zM212.78 564.91h4.9v4.97h-4.9zM332.73 447.94h4.9v4.97h-4.9z"/><path fill="#d35171" d="M303.94 472.31h4.9v4.97h-4.9zM313.54 462.56h4.9v4.97h-4.9zM337.53 438.19h4.9v4.97h-4.9z"/><path fill="#e16462" d="M318.33 457.68h4.9v4.97h-4.9zM332.73 443.06h4.9v4.97h-4.9z"/><path fill="#ed7953" d="M323.13 452.81h4.9v4.97h-4.9z"/><path fill="#f0f921" d="M327.93 447.94h4.9v4.97h-4.9z"/><path fill="#6a00a8" d="M342.32 438.19h4.9v4.97h-4.9zM347.12 433.31h4.9v4.97h-4.9z"/></g></g>
<g class="grid" stroke="#939393" stroke-width="1.0"><line x1="259.5" y1="379.6" x2="259.5" y2="623.4"/><line x1="388.1" y1="379.6" x2="388.1" y2="623.4"/><line x1="147.6" y1="395" x2="412.7" y2="395"/><line x1="147.6" y1="523.7" x2="412.7" y2="523.7"/></g>
<g class="ticks" stroke="#000" stroke-width="1.3"><line x1="259.5" y1="623.4" x2="259.5" y2="628.7"/><line x1="388.1" y1="623.4" x2="388.1" y2="628.7"/><line x1="142.3" y1="395" x2="147.6" y2="395"/><line x1="142.3" y1="523.7" x2="147.6" y2="523.7"/></g>
<rect class="frame" x="147.6" y="379.6" width="265.1" height="243.8" fill="none" stroke="#000" stroke-width="1.3"/>
<text class="r" x="174.5" y="440.6" font-size="40.0" fill="#ff0000">0.999</text>
<text class="sym" x="174.8" y="476.6" font-size="38.6" font-style="italic">q<tspan font-size="28.0" font-style="normal" dx="0.2" dy="7.8">95</tspan></text>
<text class="lab" x="346.3" y="599.1" font-size="39.6">(e)</text>
<g class="ticklabels" font-size="26.6"><text x="259.5" y="656.4" text-anchor="middle">0</text><text x="388.1" y="656.4" text-anchor="middle">1</text><text x="135.4" y="405.3" text-anchor="end">1</text><text x="135.4" y="534" text-anchor="end">0</text><text x="148.1" y="375.4" text-anchor="start">1e1</text><text x="412.2" y="685.6" text-anchor="end">1e1</text></g>
<rect class="cbar" x="429.05" y="379.6" width="12.3" height="243.8" fill="url(#plasma)" stroke="#1a1208" stroke-width="1.5"/>
<g class="cticks" stroke="#000" stroke-width="1.3"><line x1="441.35" y1="385.5" x2="446.35" y2="385.5"/><line x1="441.35" y1="505.3" x2="446.35" y2="505.3"/></g>
<g class="clabels" font-size="33.0"><text x="452.65" y="399.2">200</text><text x="452.65" y="519">100</text></g>
</g>
<g class="panel" id="panel-f">
<g class="cells" clip-path="url(#clip-f)"><g filter="url(#soft)" shape-rendering="crispEdges"><path fill="#0d0887" d="M601.5 615.67h5.04v4.83h-5.04zM601.5 610.94h5.04v4.83h-5.04zM606.44 615.67h5.04v4.83h-5.04zM606.44 610.94h5.04v4.83h-5.04zM606.44 606.2h5.04v4.83h-5.04zM611.38 610.94h5.04v4.83h-5.04zM611.38 601.47h5.04v4.83h-5.04zM616.32 596.74h5.04v4.83h-5.04zM641.02 582.54h5.04v4.83h-5.04zM641.02 568.35h5.04v4.83h-5.04zM641.02 563.62h5.04v4.83h-5.04zM650.9 558.88h5.04v4.83h-5.04zM655.84 554.15h5.04v4.83h-5.04zM655.84 549.42h5.04v4.83h-5.04zM660.78 568.35h5.04v4.83h-5.04zM660.78 549.42h5.04v4.83h-5.04zM660.78 544.69h5.04v4.83h-5.04zM665.72 563.62h5.04v4.83h-5.04zM665.72 544.69h5.04v4.83h-5.04zM665.72 539.96h5.04v4.83h-5.04zM665.72 530.49h5.04v4.83h-5.04zM670.66 563.62h5.04v4.83h-5.04zM670.66 539.96h5.04v4.83h-5.04zM670.66 535.22h5.04v4.83h-5.04zM675.6 554.15h5.04v4.83h-5.04zM675.6 535.22h5.04v4.83h-5.04zM675.6 530.49h5.04v4.83h-5.04zM675.6 521.03h5.04v4.83h-5.04zM675.6 516.3h5.04v4.83h-5.04zM680.54 549.42h5.04v4.83h-5.04zM680.54 535.22h5.04v4.83h-5.04zM680.54 530.49h5.04v4.83h-5.04zM680.54 525.76h5.04v4.83h-5.04zM685.48 549.42h5.04v4.83h-5.04zM685.48 544.69h5.04v4.83h-5.04zM685.48 530.49h5.04v4.83h-5.04zM685.48 521.03h5.04v4.83h-5.04zM685.48 516.3h5.04v4.83h-5.04zM690.42 554.15h5.04v4.83h-5.04zM690.42 544.69h5.04v4.83h-5.04zM690.42 539.96h5.04v4.83h-5.04zM690.42 535.22h5.04v4.83h-5.04zM690.42 530.49h5.04v4.83h-5.04zM690.42 525.76h5.04v4.83h-5.04zM690.42 521.03h5.04v4.83h-5.04zM695.36 544.69h5.04v4.83h-5.04zM695.36 539.96h5.04v4.83h-5.04zM695.36 535.22h5.04v4.83h-5.04zM695.36 530.49h5.04v4.83h-5.04zM695.36 525.76h5.04v4.83h-5.04zM695.36 521.03h5.04v4.83h-5.04zM695.36 516.3h5.04v4.83h-5.04zM700.3 549.42h5.04v4.83h-5.04zM700.3 539.96h5.04v4.83h-5.04zM700.3 535.22h5.04v4.83h-5.04zM700.3 525.76h5.04v4.83h-5.04zM700.3 502.1h5.04v4.83h-5.04zM705.24 535.22h5.04v4.83h-5.04zM705.24 525.76h5.04v4.83h-5.04zM705.24 521.03h5.04v4.83h-5.04zM705.24 506.83h5.04v4.83h-5.04zM705.24 492.64h5.04v4.83h-5.04zM710.18 530.49h5.04v4.83h-5.04zM710.18 516.3h5.04v4.83h-5.04zM710.18 511.56h5.04v4.83h-5.04zM710.18 497.37h5.04v4.83h-5.04zM710.18 487.9h5.04v4.83h-5.04zM710.18 483.17h5.04v4.83h-5.04zM710.18 464.24h5.04v4.83h-5.04zM715.12 525.76h5.04v4.83h-5.04zM720.06 483.17h5.04v4.83h-5.04zM725 497.37h5.04v4.83h-5.04zM729.94 497.37h5.04v4.83h-5.04zM729.94 487.9h5.04v4.83h-5.04zM729.94 431.12h5.04v4.83h-5.04zM744.76 506.83h5.04v4.83h-5.04zM744.76 502.1h5.04v4.83h-5.04zM744.76 497.37h5.04v4.83h-5.04zM759.58 502.1h5.04v4.83h-5.04zM759.58 445.32h5.04v4.83h-5.04zM769.46 440.58h5.04v4.83h-5.04zM779.34 464.24h5.04v4.83h-5.04zM789.22 487.9h5.04v4.83h-5.04zM799.1 402.73h5.04v4.83h-5.04zM804.04 383.8h5.04v4.83h-5.04zM843.56 416.92h5.04v4.83h-5.04z"/><path fill="#f0f921" d="M611.38 606.2h5.04v4.83h-5.04zM641.02 577.81h5.04v4.83h-5.04z"/><path fill="#c33d80" d="M616.32 606.2h5.04v4.83h-5.04zM650.9 568.35h5.04v4.83h-5.04z"/><path fill="#f68f44" d="M616.32 601.47h5.04v4.83h-5.04zM645.96 573.08h5.04v4.83h-5.04z"/><path fill="#9c179e" d="M636.08 582.54h5.04v4.83h-5.04zM636.08 577.81h5.04v4.83h-5.04z"/><path fill="#8405a7" d="M641.02 573.08h5.04v4.83h-5.04z"/><path fill="#330597" d="M645.96 577.81h5.04v4.83h-5.04zM645.96 563.62h5.04v4.83h-5.04zM650.9 573.08h5.04v4.83h-5.04zM660.78 563.62h5.04v4.83h-5.04zM660.78 554.15h5.04v4.83h-5.04zM665.72 558.88h5.04v4.83h-5.04zM665.72 549.42h5.04v4.83h-5.04zM670.66 554.15h5.04v4.83h-5.04zM670.66 544.69h5.04v4.83h-5.04zM675.6 549.42h5.04v4.83h-5.04zM675.6 539.96h5.04v4.83h-5.04zM680.54 544.69h5.04v4.83h-5.04zM680.54 539.96h5.04v4.83h-5.04zM685.48 539.96h5.04v4.83h-5.04zM685.48 535.22h5.04v4.83h-5.04z"/><path fill="#6a00a8" d="M645.96 568.35h5.04v4.83h-5.04zM655.84 563.62h5.04v4.83h-5.04zM660.78 558.88h5.04v4.83h-5.04z"/><path fill="#5002a2" d="M650.9 563.62h5.04v4.83h-5.04zM655.84 568.35h5.04v4.83h-5.04zM655.84 558.88h5.04v4.83h-5.04zM665.72 554.15h5.04v4.83h-5.04zM670.66 549.42h5.04v4.83h-5.04zM675.6 544.69h5.04v4.83h-5.04z"/></g></g>
<g class="grid" stroke="#939393" stroke-width="1.0"><line x1="628.9" y1="379.6" x2="628.9" y2="623.4"/><line x1="745.8" y1="379.6" x2="745.8" y2="623.4"/><line x1="592.6" y1="477.1" x2="857.7" y2="477.1"/><line x1="592.6" y1="594" x2="857.7" y2="594"/></g>
<g class="ticks" stroke="#000" stroke-width="1.3"><line x1="628.9" y1="623.4" x2="628.9" y2="628.7"/><line x1="745.8" y1="623.4" x2="745.8" y2="628.7"/><line x1="587.3" y1="477.1" x2="592.6" y2="477.1"/><line x1="587.3" y1="594" x2="592.6" y2="594"/></g>
<rect class="frame" x="592.6" y="379.6" width="265.1" height="243.8" fill="none" stroke="#000" stroke-width="1.3"/>
<text class="r" x="619.5" y="440.6" font-size="40.0" fill="#ff0000">0.969</text>
<text class="sym" x="619.8" y="476.6" font-size="38.6" font-style="italic">q<tspan font-size="28.0" font-style="italic" dx="0.2" dy="7.8">a</tspan></text>
<text class="lab" x="791.3" y="599.1" font-size="39.6">(f)</text>
<g class="ticklabels" font-size="26.6"><text x="628.9" y="656.4" text-anchor="middle">0</text><text x="745.8" y="656.4" text-anchor="middle">1</text><text x="580.4" y="487.4" text-anchor="end">1</text><text x="580.4" y="604.3" text-anchor="end">0</text><text x="593.1" y="375.4" text-anchor="start">1e1</text><text x="857.2" y="685.6" text-anchor="end">1e1</text></g>
<rect class="cbar" x="874.05" y="379.6" width="12.3" height="243.8" fill="url(#plasma)" stroke="#1a1208" stroke-width="1.5"/>
<g class="cticks" stroke="#000" stroke-width="1.3"><line x1="886.35" y1="422.5" x2="891.35" y2="422.5"/><line x1="886.35" y1="490" x2="891.35" y2="490"/><line x1="886.35" y1="557.6" x2="891.35" y2="557.6"/></g>
<g class="clabels" font-size="33.0"><text x="897.65" y="436.2">300</text><text x="897.65" y="503.7">200</text><text x="897.65" y="571.3">100</text></g>
</g>
<g class="panel" id="panel-g">
<g class="cells" clip-path="url(#clip-g)"><g filter="url(#soft)" shape-rendering="crispEdges"><path fill="#0d0887" d="M1047 618.53h5.03v4.97h-5.03zM1047 613.65h5.03v4.97h-5.03zM1051.93 618.53h5.03v4.97h-5.03zM1051.93 608.78h5.03v4.97h-5.03zM1056.86 618.53h5.03v4.97h-5.03zM1056.86 613.65h5.03v4.97h-5.03zM1056.86 603.9h5.03v4.97h-5.03zM1061.78 608.78h5.03v4.97h-5.03zM1061.78 599.03h5.03v4.97h-5.03zM1066.71 603.9h5.03v4.97h-5.03zM1066.71 589.28h5.03v4.97h-5.03zM1071.64 603.9h5.03v4.97h-5.03zM1071.64 599.03h5.03v4.97h-5.03zM1071.64 589.28h5.03v4.97h-5.03zM1071.64 584.41h5.03v4.97h-5.03zM1076.57 603.9h5.03v4.97h-5.03zM1076.57 599.03h5.03v4.97h-5.03zM1076.57 594.16h5.03v4.97h-5.03zM1081.5 579.53h5.03v4.97h-5.03zM1086.42 589.28h5.03v4.97h-5.03zM1091.35 584.41h5.03v4.97h-5.03zM1091.35 569.79h5.03v4.97h-5.03zM1091.35 564.91h5.03v4.97h-5.03zM1096.28 579.53h5.03v4.97h-5.03zM1101.21 569.79h5.03v4.97h-5.03zM1101.21 564.91h5.03v4.97h-5.03zM1155.42 516.17h5.03v4.97h-5.03zM1155.42 511.3h5.03v4.97h-5.03zM1155.42 506.42h5.03v4.97h-5.03zM1155.42 501.55h5.03v4.97h-5.03zM1160.34 496.68h5.03v4.97h-5.03zM1165.27 511.3h5.03v4.97h-5.03zM1165.27 491.8h5.03v4.97h-5.03zM1170.2 506.42h5.03v4.97h-5.03zM1170.2 486.93h5.03v4.97h-5.03zM1170.2 482.05h5.03v4.97h-5.03zM1175.13 477.18h5.03v4.97h-5.03zM1180.06 501.55h5.03v4.97h-5.03zM1180.06 496.68h5.03v4.97h-5.03zM1180.06 477.18h5.03v4.97h-5.03zM1184.98 506.42h5.03v4.97h-5.03zM1184.98 491.8h5.03v4.97h-5.03zM1184.98 472.31h5.03v4.97h-5.03zM1184.98 467.43h5.03v4.97h-5.03zM1189.91 491.8h5.03v4.97h-5.03zM1189.91 486.93h5.03v4.97h-5.03zM1189.91 467.43h5.03v4.97h-5.03zM1189.91 462.56h5.03v4.97h-5.03zM1194.84 486.93h5.03v4.97h-5.03zM1194.84 482.05h5.03v4.97h-5.03zM1194.84 462.56h5.03v4.97h-5.03zM1199.77 477.18h5.03v4.97h-5.03zM1204.7 477.18h5.03v4.97h-5.03zM1204.7 472.31h5.03v4.97h-5.03zM1204.7 452.81h5.03v4.97h-5.03zM1204.7 447.94h5.03v4.97h-5.03zM1209.62 477.18h5.03v4.97h-5.03zM1209.62 472.31h5.03v4.97h-5.03zM1209.62 467.43h5.03v4.97h-5.03zM1209.62 443.06h5.03v4.97h-5.03zM1209.62 438.19h5.03v4.97h-5.03zM1214.55 467.43h5.03v4.97h-5.03zM1214.55 462.56h5.03v4.97h-5.03zM1214.55 443.06h5.03v4.97h-5.03zM1214.55 438.19h5.03v4.97h-5.03zM1219.48 467.43h5.03v4.97h-5.03zM1219.48 462.56h5.03v4.97h-5.03zM1219.48 457.68h5.03v4.97h-5.03zM1219.48 438.19h5.03v4.97h-5.03zM1219.48 433.31h5.03v4.97h-5.03zM1219.48 428.44h5.03v4.97h-5.03zM1224.41 452.81h5.03v4.97h-5.03zM1224.41 447.94h5.03v4.97h-5.03zM1224.41 433.31h5.03v4.97h-5.03zM1224.41 428.44h5.03v4.97h-5.03zM1229.34 457.68h5.03v4.97h-5.03zM1229.34 452.81h5.03v4.97h-5.03zM1229.34 447.94h5.03v4.97h-5.03zM1229.34 428.44h5.03v4.97h-5.03zM1229.34 423.57h5.03v4.97h-5.03zM1234.26 452.81h5.03v4.97h-5.03zM1234.26 443.06h5.03v4.97h-5.03zM1234.26 438.19h5.03v4.97h-5.03zM1234.26 423.57h5.03v4.97h-5.03zM1239.19 443.06h5.03v4.97h-5.03zM1239.19 438.19h5.03v4.97h-5.03zM1239.19 418.69h5.03v4.97h-5.03zM1244.12 433.31h5.03v4.97h-5.03zM1244.12 428.44h5.03v4.97h-5.03zM1244.12 418.69h5.03v4.97h-5.03zM1244.12 408.94h5.03v4.97h-5.03zM1249.05 433.31h5.03v4.97h-5.03zM1249.05 428.44h5.03v4.97h-5.03zM1249.05 423.57h5.03v4.97h-5.03zM1249.05 413.82h5.03v4.97h-5.03zM1249.05 408.94h5.03v4.97h-5.03zM1253.98 423.57h5.03v4.97h-5.03zM1253.98 418.69h5.03v4.97h-5.03zM1253.98 413.82h5.03v4.97h-5.03zM1253.98 408.94h5.03v4.97h-5.03zM1258.9 418.69h5.03v4.97h-5.03zM1258.9 413.82h5.03v4.97h-5.03zM1258.9 408.94h5.03v4.97h-5.03zM1258.9 404.07h5.03v4.97h-5.03zM1258.9 399.2h5.03v4.97h-5.03zM1258.9 394.32h5.03v4.97h-5.03zM1263.83 413.82h5.03v4.97h-5.03zM1263.83 408.94h5.03v4.97h-5.03zM1263.83 404.07h5.03v4.97h-5.03zM1263.83 399.2h5.03v4.97h-5.03zM1263.83 389.45h5.03v4.97h-5.03zM1268.76 404.07h5.03v4.97h-5.03zM1268.76 399.2h5.03v4.97h-5.03zM1268.76 394.32h5.03v4.97h-5.03zM1268.76 379.7h5.03v4.97h-5.03zM1273.69 404.07h5.03v4.97h-5.03zM1273.69 389.45h5.03v4.97h-5.03zM1273.69 384.57h5.03v4.97h-5.03zM1278.62 404.07h5.03v4.97h-5.03zM1278.62 399.2h5.03v4.97h-5.03zM1278.62 389.45h5.03v4.97h-5.03zM1278.62 384.57h5.03v4.97h-5.03zM1283.54 379.7h5.03v4.97h-5.03zM1288.47 394.32h5.03v4.97h-5.03zM1288.47 384.57h5.03v4.97h-5.03zM1288.47 379.7h5.03v4.97h-5.03z"/><path fill="#330597" d="M1051.93 613.65h5.03v4.97h-5.03zM1056.86 608.78h5.03v4.97h-5.03zM1061.78 603.9h5.03v4.97h-5.03zM1066.71 599.03h5.03v4.97h-5.03zM1071.64 594.16h5.03v4.97h-5.03zM1076.57 589.28h5.03v4.97h-5.03zM1076.57 584.41h5.03v4.97h-5.03zM1081.5 589.28h5.03v4.97h-5.03zM1086.42 574.66h5.03v4.97h-5.03zM1160.34 501.55h5.03v4.97h-5.03zM1165.27 496.68h5.03v4.97h-5.03zM1170.2 491.8h5.03v4.97h-5.03zM1175.13 501.55h5.03v4.97h-5.03zM1175.13 496.68h5.03v4.97h-5.03zM1175.13 486.93h5.03v4.97h-5.03zM1175.13 482.05h5.03v4.97h-5.03zM1184.98 477.18h5.03v4.97h-5.03zM1189.91 482.05h5.03v4.97h-5.03zM1189.91 472.31h5.03v4.97h-5.03zM1194.84 467.43h5.03v4.97h-5.03zM1199.77 462.56h5.03v4.97h-5.03zM1204.7 457.68h5.03v4.97h-5.03zM1209.62 462.56h5.03v4.97h-5.03zM1209.62 452.81h5.03v4.97h-5.03zM1209.62 447.94h5.03v4.97h-5.03zM1214.55 457.68h5.03v4.97h-5.03zM1219.48 452.81h5.03v4.97h-5.03zM1219.48 447.94h5.03v4.97h-5.03zM1219.48 443.06h5.03v4.97h-5.03zM1224.41 438.19h5.03v4.97h-5.03zM1229.34 443.06h5.03v4.97h-5.03zM1229.34 433.31h5.03v4.97h-5.03zM1234.26 428.44h5.03v4.97h-5.03zM1239.19 433.31h5.03v4.97h-5.03zM1239.19 428.44h5.03v4.97h-5.03zM1239.19 423.57h5.03v4.97h-5.03zM1244.12 423.57h5.03v4.97h-5.03zM1249.05 418.69h5.03v4.97h-5.03z"/><path fill="#5002a2" d="M1081.5 584.41h5.03v4.97h-5.03zM1096.28 574.66h5.03v4.97h-5.03zM1096.28 569.79h5.03v4.97h-5.03zM1160.34 511.3h5.03v4.97h-5.03zM1165.27 506.42h5.03v4.97h-5.03zM1180.06 491.8h5.03v4.97h-5.03zM1180.06 482.05h5.03v4.97h-5.03zM1184.98 486.93h5.03v4.97h-5.03zM1194.84 477.18h5.03v4.97h-5.03zM1199.77 472.31h5.03v4.97h-5.03zM1204.7 467.43h5.03v4.97h-5.03zM1204.7 462.56h5.03v4.97h-5.03zM1209.62 457.68h5.03v4.97h-5.03zM1214.55 452.81h5.03v4.97h-5.03zM1214.55 447.94h5.03v4.97h-5.03zM1224.41 443.06h5.03v4.97h-5.03zM1229.34 438.19h5.03v4.97h-5.03zM1234.26 433.31h5.03v4.97h-5.03z"/><path fill="#8405a7" d="M1086.42 584.41h5.03v4.97h-5.03zM1170.2 496.68h5.03v4.97h-5.03z"/><path fill="#f68f44" d="M1086.42 579.53h5.03v4.97h-5.03z"/><path fill="#d35171" d="M1091.35 579.53h5.03v4.97h-5.03z"/><path fill="#f0f921" d="M1091.35 574.66h5.03v4.97h-5.03z"/><path fill="#b12a90" d="M1160.34 506.42h5.03v4.97h-5.03z"/><path fill="#fca636" d="M1165.27 501.55h5.03v4.97h-5.03z"/><path fill="#6a00a8" d="M1170.2 501.55h5.03v4.97h-5.03zM1175.13 491.8h5.03v4.97h-5.03zM1180.06 486.93h5.03v4.97h-5.03zM1184.98 482.05h5.03v4.97h-5.03zM1189.91 477.18h5.03v4.97h-5.03zM1194.84 472.31h5.03v4.97h-5.03zM1199.77 467.43h5.03v4.97h-5.03z"/></g></g>
<g class="grid" stroke="#939393" stroke-width="1.0"><line x1="1039.4" y1="379.6" x2="1039.4" y2="623.4"/><line x1="1129.4" y1="379.6" x2="1129.4" y2="623.4"/><line x1="1219.9" y1="379.6" x2="1219.9" y2="623.4"/><line x1="1037.6" y1="452.2" x2="1302.7" y2="452.2"/><line x1="1037.6" y1="542.5" x2="1302.7" y2="542.5"/></g>
<g class="ticks" stroke="#000" stroke-width="1.3"><line x1="1039.4" y1="623.4" x2="1039.4" y2="628.7"/><line x1="1129.4" y1="623.4" x2="1129.4" y2="628.7"/><line x1="1219.9" y1="623.4" x2="1219.9" y2="628.7"/><line x1="1032.3" y1="452.2" x2="1037.6" y2="452.2"/><line x1="1032.3" y1="542.5" x2="1037.6" y2="542.5"/></g>
<rect class="frame" x="1037.6" y="379.6" width="265.1" height="243.8" fill="none" stroke="#000" stroke-width="1.3"/>
<text class="r" x="1064.5" y="440.6" font-size="40.0" fill="#ff0000">0.994</text>
<text class="sym" x="1064.8" y="476.6" font-size="38.6" font-style="italic">q<tspan font-size="28.0" font-style="italic" dx="0.2" dy="7.8">min</tspan></text>
<text class="lab" x="1236.3" y="599.1" font-size="39.6">(g)</text>
<g class="ticklabels" font-size="26.6"><text x="1039.4" y="656.4" text-anchor="middle">−2.5</text><text x="1129.4" y="656.4" text-anchor="middle">0.0</text><text x="1219.9" y="656.4" text-anchor="middle">2.5</text><text x="1025.4" y="462.5" text-anchor="end">2.5</text><text x="1025.4" y="552.8" text-anchor="end">0.0</text></g>
<rect class="cbar" x="1319.05" y="379.6" width="12.3" height="243.8" fill="url(#plasma)" stroke="#1a1208" stroke-width="1.5"/>
<g class="cticks" stroke="#000" stroke-width="1.3"><line x1="1331.35" y1="418.5" x2="1336.35" y2="418.5"/><line x1="1331.35" y1="521.8" x2="1336.35" y2="521.8"/></g>
<g class="clabels" font-size="33.0"><text x="1342.65" y="432.2">200</text><text x="1342.65" y="535.5">100</text></g>
</g>
<g class="panel" id="panel-h">
<g class="cells" clip-path="url(#clip-h)"><g filter="url(#soft)" shape-rendering="crispEdges"><path fill="#0d0887" d="M1496 618.53h4.85v4.97h-4.85zM1500.75 603.9h4.85v4.97h-4.85zM1534 569.79h4.85v4.97h-4.85zM1543.5 555.16h4.85v4.97h-4.85zM1548.25 574.66h4.85v4.97h-4.85zM1553 569.79h4.85v4.97h-4.85zM1557.75 560.04h4.85v4.97h-4.85zM1557.75 545.42h4.85v4.97h-4.85zM1562.5 555.16h4.85v4.97h-4.85zM1562.5 540.54h4.85v4.97h-4.85zM1572 530.79h4.85v4.97h-4.85zM1576.75 525.92h4.85v4.97h-4.85zM1576.75 516.17h4.85v4.97h-4.85zM1595.75 525.92h4.85v4.97h-4.85zM1624.25 477.18h4.85v4.97h-4.85zM1629 496.68h4.85v4.97h-4.85zM1638.5 462.56h4.85v4.97h-4.85zM1648 452.81h4.85v4.97h-4.85zM1652.75 467.43h4.85v4.97h-4.85zM1657.5 462.56h4.85v4.97h-4.85zM1657.5 443.06h4.85v4.97h-4.85zM1662.25 462.56h4.85v4.97h-4.85zM1667 452.81h4.85v4.97h-4.85zM1667 433.31h4.85v4.97h-4.85zM1671.75 447.94h4.85v4.97h-4.85zM1676.5 462.56h4.85v4.97h-4.85zM1681.25 438.19h4.85v4.97h-4.85zM1681.25 423.57h4.85v4.97h-4.85zM1686 418.69h4.85v4.97h-4.85zM1690.75 423.57h4.85v4.97h-4.85zM1690.75 413.82h4.85v4.97h-4.85zM1695.5 418.69h4.85v4.97h-4.85zM1695.5 408.94h4.85v4.97h-4.85zM1700.25 404.07h4.85v4.97h-4.85zM1700.25 399.2h4.85v4.97h-4.85zM1705 399.2h4.85v4.97h-4.85zM1709.75 404.07h4.85v4.97h-4.85zM1714.5 394.32h4.85v4.97h-4.85zM1724 389.45h4.85v4.97h-4.85zM1724 384.57h4.85v4.97h-4.85zM1728.75 379.7h4.85v4.97h-4.85z"/><path fill="#330597" d="M1500.75 618.53h4.85v4.97h-4.85zM1505.5 608.78h4.85v4.97h-4.85zM1505.5 599.03h4.85v4.97h-4.85zM1510.25 603.9h4.85v4.97h-4.85zM1510.25 594.16h4.85v4.97h-4.85zM1515 599.03h4.85v4.97h-4.85zM1515 589.28h4.85v4.97h-4.85zM1519.75 594.16h4.85v4.97h-4.85zM1519.75 584.41h4.85v4.97h-4.85zM1524.5 589.28h4.85v4.97h-4.85zM1529.25 584.41h4.85v4.97h-4.85zM1529.25 579.53h4.85v4.97h-4.85zM1529.25 574.66h4.85v4.97h-4.85zM1538.75 579.53h4.85v4.97h-4.85zM1538.75 574.66h4.85v4.97h-4.85zM1538.75 569.79h4.85v4.97h-4.85zM1543.5 564.91h4.85v4.97h-4.85zM1543.5 560.04h4.85v4.97h-4.85zM1548.25 569.79h4.85v4.97h-4.85zM1553 560.04h4.85v4.97h-4.85zM1553 550.29h4.85v4.97h-4.85zM1557.75 555.16h4.85v4.97h-4.85zM1562.5 550.29h4.85v4.97h-4.85zM1562.5 545.42h4.85v4.97h-4.85zM1567.25 540.54h4.85v4.97h-4.85zM1572 535.67h4.85v4.97h-4.85zM1576.75 540.54h4.85v4.97h-4.85zM1576.75 530.79h4.85v4.97h-4.85zM1581.5 535.67h4.85v4.97h-4.85zM1581.5 521.05h4.85v4.97h-4.85zM1586.25 516.17h4.85v4.97h-4.85zM1595.75 506.42h4.85v4.97h-4.85zM1605.25 496.68h4.85v4.97h-4.85zM1610 491.8h4.85v4.97h-4.85zM1633.75 472.31h4.85v4.97h-4.85zM1638.5 467.43h4.85v4.97h-4.85zM1643.25 472.31h4.85v4.97h-4.85zM1643.25 462.56h4.85v4.97h-4.85zM1648 467.43h4.85v4.97h-4.85zM1648 457.68h4.85v4.97h-4.85zM1652.75 462.56h4.85v4.97h-4.85zM1652.75 452.81h4.85v4.97h-4.85zM1657.5 457.68h4.85v4.97h-4.85zM1657.5 447.94h4.85v4.97h-4.85zM1662.25 452.81h4.85v4.97h-4.85zM1662.25 443.06h4.85v4.97h-4.85zM1667 447.94h4.85v4.97h-4.85zM1667 438.19h4.85v4.97h-4.85zM1671.75 443.06h4.85v4.97h-4.85zM1671.75 433.31h4.85v4.97h-4.85zM1676.5 438.19h4.85v4.97h-4.85zM1676.5 428.44h4.85v4.97h-4.85zM1681.25 433.31h4.85v4.97h-4.85zM1686 428.44h4.85v4.97h-4.85zM1695.5 413.82h4.85v4.97h-4.85zM1700.25 408.94h4.85v4.97h-4.85zM1705 404.07h4.85v4.97h-4.85zM1709.75 399.2h4.85v4.97h-4.85z"/><path fill="#6a00a8" d="M1500.75 613.65h4.85v4.97h-4.85zM1595.75 511.3h4.85v4.97h-4.85zM1600.5 506.42h4.85v4.97h-4.85zM1605.25 511.3h4.85v4.97h-4.85zM1610 506.42h4.85v4.97h-4.85zM1610 496.68h4.85v4.97h-4.85zM1619.5 496.68h4.85v4.97h-4.85zM1671.75 438.19h4.85v4.97h-4.85zM1676.5 433.31h4.85v4.97h-4.85zM1681.25 428.44h4.85v4.97h-4.85z"/><path fill="#9c179e" d="M1500.75 608.78h4.85v4.97h-4.85zM1505.5 603.9h4.85v4.97h-4.85zM1510.25 599.03h4.85v4.97h-4.85zM1515 594.16h4.85v4.97h-4.85zM1519.75 589.28h4.85v4.97h-4.85zM1524.5 584.41h4.85v4.97h-4.85zM1534 579.53h4.85v4.97h-4.85zM1543.5 569.79h4.85v4.97h-4.85zM1548.25 564.91h4.85v4.97h-4.85zM1548.25 560.04h4.85v4.97h-4.85zM1553 555.16h4.85v4.97h-4.85zM1557.75 550.29h4.85v4.97h-4.85zM1652.75 457.68h4.85v4.97h-4.85z"/><path fill="#8405a7" d="M1534 574.66h4.85v4.97h-4.85zM1657.5 452.81h4.85v4.97h-4.85zM1662.25 447.94h4.85v4.97h-4.85zM1667 443.06h4.85v4.97h-4.85z"/><path fill="#b12a90" d="M1567.25 545.42h4.85v4.97h-4.85zM1648 462.56h4.85v4.97h-4.85z"/><path fill="#c33d80" d="M1572 540.54h4.85v4.97h-4.85zM1576.75 535.67h4.85v4.97h-4.85zM1581.5 530.79h4.85v4.97h-4.85zM1638.5 472.31h4.85v4.97h-4.85zM1643.25 467.43h4.85v4.97h-4.85z"/><path fill="#5002a2" d="M1581.5 525.92h4.85v4.97h-4.85zM1586.25 521.05h4.85v4.97h-4.85zM1591 525.92h4.85v4.97h-4.85zM1591 516.17h4.85v4.97h-4.85zM1595.75 521.05h4.85v4.97h-4.85zM1600.5 516.17h4.85v4.97h-4.85zM1605.25 501.55h4.85v4.97h-4.85zM1614.75 501.55h4.85v4.97h-4.85zM1614.75 491.8h4.85v4.97h-4.85zM1619.5 486.93h4.85v4.97h-4.85zM1624.25 491.8h4.85v4.97h-4.85zM1624.25 482.05h4.85v4.97h-4.85zM1629 486.93h4.85v4.97h-4.85zM1629 477.18h4.85v4.97h-4.85zM1633.75 482.05h4.85v4.97h-4.85zM1638.5 477.18h4.85v4.97h-4.85zM1686 423.57h4.85v4.97h-4.85zM1690.75 418.69h4.85v4.97h-4.85z"/><path fill="#d35171" d="M1586.25 525.92h4.85v4.97h-4.85zM1633.75 477.18h4.85v4.97h-4.85z"/><path fill="#ed7953" d="M1591 521.05h4.85v4.97h-4.85zM1624.25 486.93h4.85v4.97h-4.85zM1629 482.05h4.85v4.97h-4.85z"/><path fill="#e16462" d="M1595.75 516.17h4.85v4.97h-4.85z"/><path fill="#f9dc24" d="M1600.5 511.3h4.85v4.97h-4.85z"/><path fill="#f0f921" d="M1605.25 506.42h4.85v4.97h-4.85z"/><path fill="#f68f44" d="M1610 501.55h4.85v4.97h-4.85zM1619.5 491.8h4.85v4.97h-4.85z"/><path fill="#fec029" d="M1614.75 496.68h4.85v4.97h-4.85z"/></g></g>
<g class="grid" stroke="#939393" stroke-width="1.0"><line x1="1483.8" y1="379.6" x2="1483.8" y2="623.4"/><line x1="1610.1" y1="379.6" x2="1610.1" y2="623.4"/><line x1="1736.4" y1="379.6" x2="1736.4" y2="623.4"/><line x1="1482.3" y1="442.7" x2="1747.4" y2="442.7"/><line x1="1482.3" y1="505.9" x2="1747.4" y2="505.9"/><line x1="1482.3" y1="569" x2="1747.4" y2="569"/></g>
<g class="ticks" stroke="#000" stroke-width="1.3"><line x1="1483.8" y1="623.4" x2="1483.8" y2="628.7"/><line x1="1610.1" y1="623.4" x2="1610.1" y2="628.7"/><line x1="1736.4" y1="623.4" x2="1736.4" y2="628.7"/><line x1="1477" y1="442.7" x2="1482.3" y2="442.7"/><line x1="1477" y1="505.9" x2="1482.3" y2="505.9"/><line x1="1477" y1="569" x2="1482.3" y2="569"/></g>
<rect class="frame" x="1482.3" y="379.6" width="265.1" height="243.8" fill="none" stroke="#000" stroke-width="1.3"/>
<text class="r" x="1509.2" y="440.6" font-size="40.0" fill="#ff0000">0.998</text>
<text class="sym" x="1509.5" y="476.6" font-size="38.6" font-style="italic">β<tspan font-size="28.0" font-style="italic" dx="0.2" dy="7.8">toroidal</tspan></text>
<text class="lab" x="1681" y="599.1" font-size="39.6">(h)</text>
<g class="ticklabels" font-size="26.6"><text x="1483.8" y="656.4" text-anchor="middle">0</text><text x="1610.1" y="656.4" text-anchor="middle">2</text><text x="1736.4" y="656.4" text-anchor="middle">4</text><text x="1470.1" y="453" text-anchor="end">3</text><text x="1470.1" y="516.2" text-anchor="end">2</text><text x="1470.1" y="579.3" text-anchor="end">1</text><text x="1482.8" y="375.4" text-anchor="start">1e−2</text><text x="1746.9" y="685.6" text-anchor="end">1e−2</text></g>
<rect class="cbar" x="1763.75" y="379.6" width="12.3" height="243.8" fill="url(#plasma)" stroke="#1a1208" stroke-width="1.5"/>
<g class="cticks" stroke="#000" stroke-width="1.3"><line x1="1776.05" y1="397.7" x2="1781.05" y2="397.7"/><line x1="1776.05" y1="511.4" x2="1781.05" y2="511.4"/></g>
<g class="clabels" font-size="33.0"><text x="1787.35" y="411.4">100</text><text x="1787.35" y="525.1">50</text></g>
</g>
<g class="panel" id="panel-i">
<g class="cells" clip-path="url(#clip-i)"><g filter="url(#soft)" shape-rendering="crispEdges"><path fill="#6a00a8" d="M159 971.63h4.95v4.97h-4.95zM207.5 922.89h4.95v4.97h-4.95zM212.35 918.01h4.95v4.97h-4.95zM217.2 913.14h4.95v4.97h-4.95zM270.55 859.52h4.95v4.97h-4.95zM275.4 854.65h4.95v4.97h-4.95z"/><path fill="#0d0887" d="M159 966.75h4.95v4.97h-4.95zM163.85 971.63h4.95v4.97h-4.95zM163.85 961.88h4.95v4.97h-4.95zM163.85 957h4.95v4.97h-4.95zM168.7 966.75h4.95v4.97h-4.95zM173.55 961.88h4.95v4.97h-4.95zM173.55 952.13h4.95v4.97h-4.95zM178.4 957h4.95v4.97h-4.95zM178.4 947.26h4.95v4.97h-4.95zM178.4 942.38h4.95v4.97h-4.95zM183.25 957h4.95v4.97h-4.95zM183.25 952.13h4.95v4.97h-4.95zM183.25 937.51h4.95v4.97h-4.95zM188.1 932.63h4.95v4.97h-4.95zM188.1 922.89h4.95v4.97h-4.95zM192.95 947.26h4.95v4.97h-4.95zM192.95 927.76h4.95v4.97h-4.95zM192.95 922.89h4.95v4.97h-4.95zM197.8 942.38h4.95v4.97h-4.95zM197.8 937.51h4.95v4.97h-4.95zM197.8 922.89h4.95v4.97h-4.95zM202.65 932.63h4.95v4.97h-4.95zM207.5 927.76h4.95v4.97h-4.95zM207.5 918.01h4.95v4.97h-4.95zM212.35 922.89h4.95v4.97h-4.95zM212.35 913.14h4.95v4.97h-4.95zM217.2 918.01h4.95v4.97h-4.95zM217.2 908.26h4.95v4.97h-4.95zM222.05 913.14h4.95v4.97h-4.95zM222.05 903.39h4.95v4.97h-4.95zM222.05 883.89h4.95v4.97h-4.95zM226.9 913.14h4.95v4.97h-4.95zM226.9 908.26h4.95v4.97h-4.95zM226.9 898.52h4.95v4.97h-4.95zM231.75 903.39h4.95v4.97h-4.95zM231.75 893.64h4.95v4.97h-4.95zM231.75 883.89h4.95v4.97h-4.95zM236.6 898.52h4.95v4.97h-4.95zM236.6 888.77h4.95v4.97h-4.95zM241.45 893.64h4.95v4.97h-4.95zM241.45 883.89h4.95v4.97h-4.95zM246.3 888.77h4.95v4.97h-4.95zM246.3 879.02h4.95v4.97h-4.95zM251.15 874.15h4.95v4.97h-4.95zM251.15 869.27h4.95v4.97h-4.95zM251.15 864.4h4.95v4.97h-4.95zM256 883.89h4.95v4.97h-4.95zM260.85 874.15h4.95v4.97h-4.95zM260.85 864.4h4.95v4.97h-4.95zM265.7 869.27h4.95v4.97h-4.95zM265.7 859.52h4.95v4.97h-4.95zM270.55 854.65h4.95v4.97h-4.95zM275.4 849.78h4.95v4.97h-4.95zM280.25 844.9h4.95v4.97h-4.95zM285.1 840.03h4.95v4.97h-4.95zM289.95 849.78h4.95v4.97h-4.95zM289.95 844.9h4.95v4.97h-4.95zM289.95 835.15h4.95v4.97h-4.95zM294.8 840.03h4.95v4.97h-4.95zM294.8 830.28h4.95v4.97h-4.95zM299.65 825.41h4.95v4.97h-4.95zM304.5 820.53h4.95v4.97h-4.95zM309.35 825.41h4.95v4.97h-4.95zM309.35 815.66h4.95v4.97h-4.95zM314.2 820.53h4.95v4.97h-4.95zM314.2 815.66h4.95v4.97h-4.95zM319.05 810.78h4.95v4.97h-4.95zM319.05 805.91h4.95v4.97h-4.95zM319.05 801.04h4.95v4.97h-4.95zM323.9 805.91h4.95v4.97h-4.95zM323.9 801.04h4.95v4.97h-4.95zM323.9 796.16h4.95v4.97h-4.95zM328.75 801.04h4.95v4.97h-4.95zM328.75 796.16h4.95v4.97h-4.95zM333.6 796.16h4.95v4.97h-4.95zM338.45 791.29h4.95v4.97h-4.95zM338.45 786.41h4.95v4.97h-4.95zM343.3 801.04h4.95v4.97h-4.95zM343.3 786.41h4.95v4.97h-4.95zM343.3 776.67h4.95v4.97h-4.95zM348.15 791.29h4.95v4.97h-4.95zM348.15 781.54h4.95v4.97h-4.95zM348.15 771.79h4.95v4.97h-4.95zM353 781.54h4.95v4.97h-4.95zM353 776.67h4.95v4.97h-4.95zM353 766.92h4.95v4.97h-4.95zM357.85 776.67h4.95v4.97h-4.95zM357.85 771.79h4.95v4.97h-4.95zM357.85 766.92h4.95v4.97h-4.95zM362.7 771.79h4.95v4.97h-4.95zM362.7 766.92h4.95v4.97h-4.95zM362.7 762.04h4.95v4.97h-4.95zM367.55 766.92h4.95v4.97h-4.95zM367.55 762.04h4.95v4.97h-4.95zM367.55 757.17h4.95v4.97h-4.95zM372.4 762.04h4.95v4.97h-4.95zM372.4 757.17h4.95v4.97h-4.95zM377.25 757.17h4.95v4.97h-4.95zM377.25 752.3h4.95v4.97h-4.95zM382.1 747.42h4.95v4.97h-4.95zM382.1 737.67h4.95v4.97h-4.95zM386.95 747.42h4.95v4.97h-4.95zM391.8 737.67h4.95v4.97h-4.95zM396.65 732.8h4.95v4.97h-4.95z"/><path fill="#8405a7" d="M163.85 966.75h4.95v4.97h-4.95zM222.05 908.26h4.95v4.97h-4.95zM260.85 869.27h4.95v4.97h-4.95zM265.7 864.4h4.95v4.97h-4.95z"/><path fill="#9c179e" d="M168.7 961.88h4.95v4.97h-4.95zM173.55 957h4.95v4.97h-4.95zM202.65 927.76h4.95v4.97h-4.95zM256 874.15h4.95v4.97h-4.95z"/><path fill="#330597" d="M168.7 957h4.95v4.97h-4.95zM183.25 942.38h4.95v4.97h-4.95zM188.1 947.26h4.95v4.97h-4.95zM188.1 937.51h4.95v4.97h-4.95zM192.95 942.38h4.95v4.97h-4.95zM192.95 932.63h4.95v4.97h-4.95zM197.8 927.76h4.95v4.97h-4.95zM202.65 922.89h4.95v4.97h-4.95zM251.15 883.89h4.95v4.97h-4.95zM256 879.02h4.95v4.97h-4.95zM256 869.27h4.95v4.97h-4.95zM270.55 864.4h4.95v4.97h-4.95zM275.4 859.52h4.95v4.97h-4.95zM285.1 849.78h4.95v4.97h-4.95zM289.95 840.03h4.95v4.97h-4.95zM294.8 835.15h4.95v4.97h-4.95zM299.65 830.28h4.95v4.97h-4.95zM304.5 825.41h4.95v4.97h-4.95zM309.35 820.53h4.95v4.97h-4.95z"/><path fill="#c33d80" d="M178.4 952.13h4.95v4.97h-4.95z"/><path fill="#f68f44" d="M183.25 947.26h4.95v4.97h-4.95zM236.6 893.64h4.95v4.97h-4.95zM241.45 888.77h4.95v4.97h-4.95z"/><path fill="#ed7953" d="M188.1 942.38h4.95v4.97h-4.95zM246.3 883.89h4.95v4.97h-4.95z"/><path fill="#d35171" d="M192.95 937.51h4.95v4.97h-4.95z"/><path fill="#e16462" d="M197.8 932.63h4.95v4.97h-4.95z"/><path fill="#fca636" d="M226.9 903.39h4.95v4.97h-4.95z"/><path fill="#f9dc24" d="M231.75 898.52h4.95v4.97h-4.95z"/><path fill="#b12a90" d="M251.15 879.02h4.95v4.97h-4.95z"/><path fill="#5002a2" d="M280.25 849.78h4.95v4.97h-4.95zM285.1 844.9h4.95v4.97h-4.95z"/></g></g>
<g class="grid" stroke="#939393" stroke-width="1.0"><line x1="221.8" y1="732.8" x2="221.8" y2="976.6"/><line x1="357.9" y1="732.8" x2="357.9" y2="976.6"/><line x1="147.6" y1="777" x2="412.7" y2="777"/><line x1="147.6" y1="913.2" x2="412.7" y2="913.2"/></g>
<g class="ticks" stroke="#000" stroke-width="1.3"><line x1="221.8" y1="976.6" x2="221.8" y2="981.9"/><line x1="357.9" y1="976.6" x2="357.9" y2="981.9"/><line x1="142.3" y1="777" x2="147.6" y2="777"/><line x1="142.3" y1="913.2" x2="147.6" y2="913.2"/></g>
<rect class="frame" x="147.6" y="732.8" width="265.1" height="243.8" fill="none" stroke="#000" stroke-width="1.3"/>
<text class="r" x="174.5" y="793.8" font-size="40.0" fill="#ff0000">0.997</text>
<text class="sym" x="174.8" y="829.8" font-size="38.6" font-style="italic">ψ<tspan font-size="28.0" font-style="italic" dx="0.2" dy="7.8">a</tspan></text>
<text class="lab" x="346.3" y="952.3" font-size="39.6">(i)</text>
<g class="ticklabels" font-size="26.6"><text x="221.8" y="1009.6" text-anchor="middle">−2</text><text x="357.9" y="1009.6" text-anchor="middle">0</text><text x="135.4" y="787.3" text-anchor="end">0</text><text x="135.4" y="923.5" text-anchor="end">−2</text></g>
<rect class="cbar" x="429.05" y="732.8" width="12.3" height="243.8" fill="url(#plasma)" stroke="#1a1208" stroke-width="1.5"/>
<g class="cticks" stroke="#000" stroke-width="1.3"><line x1="441.35" y1="766.3" x2="446.35" y2="766.3"/><line x1="441.35" y1="837" x2="446.35" y2="837"/><line x1="441.35" y1="907.6" x2="446.35" y2="907.6"/></g>
<g class="clabels" font-size="33.0"><text x="452.65" y="780">150</text><text x="452.65" y="850.7">100</text><text x="452.65" y="921.3">50</text></g>
</g>
<g class="panel" id="panel-j">
<g class="cells" clip-path="url(#clip-j)"><g filter="url(#soft)" shape-rendering="crispEdges"><path fill="#6a00a8" d="M603.5 971.63h4.97v4.97h-4.97zM754.47 820.53h4.97v4.97h-4.97zM759.34 815.66h4.97v4.97h-4.97z"/><path fill="#330597" d="M608.37 971.63h4.97v4.97h-4.97zM613.24 966.75h4.97v4.97h-4.97zM613.24 957h4.97v4.97h-4.97zM618.11 961.88h4.97v4.97h-4.97zM618.11 952.13h4.97v4.97h-4.97zM622.98 957h4.97v4.97h-4.97zM622.98 947.26h4.97v4.97h-4.97zM627.85 952.13h4.97v4.97h-4.97zM632.72 947.26h4.97v4.97h-4.97zM632.72 932.63h4.97v4.97h-4.97zM642.46 927.76h4.97v4.97h-4.97zM647.33 922.89h4.97v4.97h-4.97zM652.2 927.76h4.97v4.97h-4.97zM652.2 918.01h4.97v4.97h-4.97zM657.07 922.89h4.97v4.97h-4.97zM657.07 913.14h4.97v4.97h-4.97zM661.94 918.01h4.97v4.97h-4.97zM666.81 913.14h4.97v4.97h-4.97zM666.81 903.39h4.97v4.97h-4.97zM676.55 903.39h4.97v4.97h-4.97zM681.42 883.89h4.97v4.97h-4.97zM715.51 854.65h4.97v4.97h-4.97zM725.25 854.65h4.97v4.97h-4.97zM725.25 844.9h4.97v4.97h-4.97zM730.12 840.03h4.97v4.97h-4.97zM734.99 844.9h4.97v4.97h-4.97zM734.99 835.15h4.97v4.97h-4.97zM739.86 840.03h4.97v4.97h-4.97zM739.86 830.28h4.97v4.97h-4.97zM744.73 835.15h4.97v4.97h-4.97zM744.73 825.41h4.97v4.97h-4.97zM749.6 830.28h4.97v4.97h-4.97zM749.6 820.53h4.97v4.97h-4.97zM754.47 825.41h4.97v4.97h-4.97zM754.47 815.66h4.97v4.97h-4.97zM759.34 820.53h4.97v4.97h-4.97zM764.21 815.66h4.97v4.97h-4.97zM783.69 791.29h4.97v4.97h-4.97zM788.56 786.41h4.97v4.97h-4.97zM793.43 781.54h4.97v4.97h-4.97zM798.3 776.67h4.97v4.97h-4.97zM803.17 771.79h4.97v4.97h-4.97zM808.04 766.92h4.97v4.97h-4.97zM812.91 762.04h4.97v4.97h-4.97zM817.78 757.17h4.97v4.97h-4.97zM822.65 752.3h4.97v4.97h-4.97zM827.52 747.42h4.97v4.97h-4.97zM837.26 737.67h4.97v4.97h-4.97zM837.26 732.8h4.97v4.97h-4.97zM842.13 737.67h4.97v4.97h-4.97zM842.13 732.8h4.97v4.97h-4.97z"/><path fill="#8405a7" d="M608.37 966.75h4.97v4.97h-4.97zM613.24 961.88h4.97v4.97h-4.97zM618.11 957h4.97v4.97h-4.97zM622.98 952.13h4.97v4.97h-4.97zM744.73 830.28h4.97v4.97h-4.97zM749.6 825.41h4.97v4.97h-4.97z"/><path fill="#9c179e" d="M627.85 947.26h4.97v4.97h-4.97z"/><path fill="#5002a2" d="M627.85 942.38h4.97v4.97h-4.97zM632.72 937.51h4.97v4.97h-4.97zM637.59 942.38h4.97v4.97h-4.97zM637.59 932.63h4.97v4.97h-4.97zM642.46 937.51h4.97v4.97h-4.97zM647.33 932.63h4.97v4.97h-4.97zM661.94 908.26h4.97v4.97h-4.97zM671.68 908.26h4.97v4.97h-4.97zM671.68 898.52h4.97v4.97h-4.97zM676.55 893.64h4.97v4.97h-4.97zM681.42 898.52h4.97v4.97h-4.97zM681.42 888.77h4.97v4.97h-4.97zM686.29 893.64h4.97v4.97h-4.97zM686.29 883.89h4.97v4.97h-4.97zM691.16 888.77h4.97v4.97h-4.97zM691.16 879.02h4.97v4.97h-4.97zM696.03 883.89h4.97v4.97h-4.97zM696.03 874.15h4.97v4.97h-4.97zM700.9 879.02h4.97v4.97h-4.97zM700.9 869.27h4.97v4.97h-4.97zM705.77 874.15h4.97v4.97h-4.97zM705.77 864.4h4.97v4.97h-4.97zM710.64 869.27h4.97v4.97h-4.97zM710.64 859.52h4.97v4.97h-4.97zM715.51 864.4h4.97v4.97h-4.97zM720.38 859.52h4.97v4.97h-4.97zM720.38 849.78h4.97v4.97h-4.97zM730.12 849.78h4.97v4.97h-4.97zM764.21 810.78h4.97v4.97h-4.97zM769.08 805.91h4.97v4.97h-4.97zM773.95 801.04h4.97v4.97h-4.97zM778.82 796.16h4.97v4.97h-4.97z"/><path fill="#fec029" d="M632.72 942.38h4.97v4.97h-4.97zM686.29 888.77h4.97v4.97h-4.97zM691.16 883.89h4.97v4.97h-4.97zM696.03 879.02h4.97v4.97h-4.97z"/><path fill="#fca636" d="M637.59 937.51h4.97v4.97h-4.97zM642.46 932.63h4.97v4.97h-4.97zM700.9 874.15h4.97v4.97h-4.97z"/><path fill="#0d0887" d="M637.59 927.76h4.97v4.97h-4.97zM671.68 913.14h4.97v4.97h-4.97zM676.55 908.26h4.97v4.97h-4.97zM730.12 854.65h4.97v4.97h-4.97zM739.86 825.41h4.97v4.97h-4.97zM764.21 805.91h4.97v4.97h-4.97zM769.08 820.53h4.97v4.97h-4.97zM769.08 815.66h4.97v4.97h-4.97zM769.08 810.78h4.97v4.97h-4.97zM769.08 801.04h4.97v4.97h-4.97zM773.95 815.66h4.97v4.97h-4.97zM773.95 805.91h4.97v4.97h-4.97zM773.95 796.16h4.97v4.97h-4.97zM778.82 801.04h4.97v4.97h-4.97zM778.82 791.29h4.97v4.97h-4.97zM783.69 796.16h4.97v4.97h-4.97zM783.69 786.41h4.97v4.97h-4.97zM788.56 781.54h4.97v4.97h-4.97zM793.43 776.67h4.97v4.97h-4.97zM798.3 771.79h4.97v4.97h-4.97zM803.17 766.92h4.97v4.97h-4.97zM808.04 762.04h4.97v4.97h-4.97zM812.91 757.17h4.97v4.97h-4.97zM817.78 762.04h4.97v4.97h-4.97zM817.78 752.3h4.97v4.97h-4.97zM822.65 771.79h4.97v4.97h-4.97zM822.65 757.17h4.97v4.97h-4.97zM822.65 747.42h4.97v4.97h-4.97zM827.52 752.3h4.97v4.97h-4.97zM832.39 762.04h4.97v4.97h-4.97zM832.39 742.55h4.97v4.97h-4.97zM842.13 752.3h4.97v4.97h-4.97z"/><path fill="#d35171" d="M647.33 927.76h4.97v4.97h-4.97zM661.94 913.14h4.97v4.97h-4.97zM671.68 903.39h4.97v4.97h-4.97zM720.38 854.65h4.97v4.97h-4.97z"/><path fill="#b12a90" d="M652.2 922.89h4.97v4.97h-4.97zM657.07 918.01h4.97v4.97h-4.97zM730.12 844.9h4.97v4.97h-4.97zM739.86 835.15h4.97v4.97h-4.97z"/><path fill="#e16462" d="M666.81 908.26h4.97v4.97h-4.97zM676.55 898.52h4.97v4.97h-4.97z"/><path fill="#f68f44" d="M681.42 893.64h4.97v4.97h-4.97zM705.77 869.27h4.97v4.97h-4.97zM710.64 864.4h4.97v4.97h-4.97zM715.51 859.52h4.97v4.97h-4.97z"/><path fill="#ed7953" d="M725.25 849.78h4.97v4.97h-4.97z"/><path fill="#c33d80" d="M734.99 840.03h4.97v4.97h-4.97z"/></g></g>
<g class="grid" stroke="#939393" stroke-width="1.0"><line x1="607.1" y1="732.8" x2="607.1" y2="976.6"/><line x1="720.7" y1="732.8" x2="720.7" y2="976.6"/><line x1="834.4" y1="732.8" x2="834.4" y2="976.6"/><line x1="592.6" y1="746.3" x2="857.7" y2="746.3"/><line x1="592.6" y1="859.6" x2="857.7" y2="859.6"/><line x1="592.6" y1="973" x2="857.7" y2="973"/></g>
<g class="ticks" stroke="#000" stroke-width="1.3"><line x1="607.1" y1="976.6" x2="607.1" y2="981.9"/><line x1="720.7" y1="976.6" x2="720.7" y2="981.9"/><line x1="834.4" y1="976.6" x2="834.4" y2="981.9"/><line x1="587.3" y1="746.3" x2="592.6" y2="746.3"/><line x1="587.3" y1="859.6" x2="592.6" y2="859.6"/><line x1="587.3" y1="973" x2="592.6" y2="973"/></g>
<rect class="frame" x="592.6" y="732.8" width="265.1" height="243.8" fill="none" stroke="#000" stroke-width="1.3"/>
<text class="r" x="619.5" y="793.8" font-size="40.0" fill="#ff0000">0.999</text>
<text class="sym" x="619.8" y="829.8" font-size="38.6" font-style="italic">ψ<tspan font-size="28.0" font-style="italic" dx="0.2" dy="7.8">b</tspan></text>
<text class="lab" x="791.3" y="952.3" font-size="39.6">(j)</text>
<g class="ticklabels" font-size="26.6"><text x="607.1" y="1009.6" text-anchor="middle">−2</text><text x="720.7" y="1009.6" text-anchor="middle">0</text><text x="834.4" y="1009.6" text-anchor="middle">2</text><text x="580.4" y="756.6" text-anchor="end">2</text><text x="580.4" y="869.9" text-anchor="end">0</text><text x="580.4" y="983.3" text-anchor="end">−2</text></g>
<rect class="cbar" x="874.05" y="732.8" width="12.3" height="243.8" fill="url(#plasma)" stroke="#1a1208" stroke-width="1.5"/>
<g class="cticks" stroke="#000" stroke-width="1.3"><line x1="886.35" y1="778.9" x2="891.35" y2="778.9"/><line x1="886.35" y1="878.2" x2="891.35" y2="878.2"/></g>
<g class="clabels" font-size="33.0"><text x="897.65" y="792.6">100</text><text x="897.65" y="891.9">50</text></g>
</g>
<g class="panel" id="panel-k">
<g class="cells" clip-path="url(#clip-k)"><g filter="url(#soft)" shape-rendering="crispEdges"><path fill="#6a00a8" d="M1050 971.63h4.9v4.97h-4.9zM1155.6 859.52h4.9v4.97h-4.9zM1160.4 854.65h4.9v4.97h-4.9zM1165.2 859.52h4.9v4.97h-4.9zM1165.2 849.78h4.9v4.97h-4.9zM1170 854.65h4.9v4.97h-4.9zM1174.8 849.78h4.9v4.97h-4.9z"/><path fill="#330597" d="M1054.8 971.63h4.9v4.97h-4.9zM1054.8 961.88h4.9v4.97h-4.9zM1059.6 966.75h4.9v4.97h-4.9zM1059.6 957h4.9v4.97h-4.9zM1064.4 961.88h4.9v4.97h-4.9zM1064.4 952.13h4.9v4.97h-4.9zM1069.2 947.26h4.9v4.97h-4.9zM1074 952.13h4.9v4.97h-4.9zM1074 942.38h4.9v4.97h-4.9zM1078.8 937.51h4.9v4.97h-4.9zM1083.6 942.38h4.9v4.97h-4.9zM1083.6 932.63h4.9v4.97h-4.9zM1088.4 927.76h4.9v4.97h-4.9zM1093.2 922.89h4.9v4.97h-4.9zM1098 927.76h4.9v4.97h-4.9zM1102.8 913.14h4.9v4.97h-4.9zM1107.6 908.26h4.9v4.97h-4.9zM1112.4 913.14h4.9v4.97h-4.9zM1117.2 908.26h4.9v4.97h-4.9zM1122 888.77h4.9v4.97h-4.9zM1150.8 879.02h4.9v4.97h-4.9zM1150.8 859.52h4.9v4.97h-4.9zM1155.6 854.65h4.9v4.97h-4.9zM1160.4 849.78h4.9v4.97h-4.9zM1165.2 864.4h4.9v4.97h-4.9zM1170 859.52h4.9v4.97h-4.9zM1189.2 840.03h4.9v4.97h-4.9zM1189.2 825.41h4.9v4.97h-4.9zM1194 820.53h4.9v4.97h-4.9zM1198.8 825.41h4.9v4.97h-4.9zM1198.8 815.66h4.9v4.97h-4.9zM1203.6 820.53h4.9v4.97h-4.9zM1203.6 810.78h4.9v4.97h-4.9zM1208.4 815.66h4.9v4.97h-4.9zM1213.2 810.78h4.9v4.97h-4.9zM1222.8 796.16h4.9v4.97h-4.9z"/><path fill="#8405a7" d="M1054.8 966.75h4.9v4.97h-4.9zM1059.6 961.88h4.9v4.97h-4.9zM1208.4 810.78h4.9v4.97h-4.9z"/><path fill="#0d0887" d="M1059.6 952.13h4.9v4.97h-4.9zM1064.4 947.26h4.9v4.97h-4.9zM1083.6 927.76h4.9v4.97h-4.9zM1088.4 942.38h4.9v4.97h-4.9zM1088.4 922.89h4.9v4.97h-4.9zM1102.8 908.26h4.9v4.97h-4.9zM1112.4 898.52h4.9v4.97h-4.9zM1117.2 893.64h4.9v4.97h-4.9zM1170 864.4h4.9v4.97h-4.9zM1208.4 805.91h4.9v4.97h-4.9zM1213.2 801.04h4.9v4.97h-4.9zM1218 805.91h4.9v4.97h-4.9zM1218 796.16h4.9v4.97h-4.9zM1222.8 801.04h4.9v4.97h-4.9zM1227.6 801.04h4.9v4.97h-4.9zM1227.6 796.16h4.9v4.97h-4.9zM1227.6 791.29h4.9v4.97h-4.9zM1227.6 786.41h4.9v4.97h-4.9zM1232.4 791.29h4.9v4.97h-4.9zM1237.2 796.16h4.9v4.97h-4.9zM1237.2 786.41h4.9v4.97h-4.9zM1237.2 781.54h4.9v4.97h-4.9zM1237.2 776.67h4.9v4.97h-4.9zM1237.2 771.79h4.9v4.97h-4.9zM1242 781.54h4.9v4.97h-4.9zM1242 776.67h4.9v4.97h-4.9zM1246.8 771.79h4.9v4.97h-4.9zM1256.4 766.92h4.9v4.97h-4.9zM1261.2 771.79h4.9v4.97h-4.9zM1266 752.3h4.9v4.97h-4.9zM1270.8 742.55h4.9v4.97h-4.9zM1275.6 737.67h4.9v4.97h-4.9zM1280.4 781.54h4.9v4.97h-4.9zM1280.4 732.8h4.9v4.97h-4.9zM1285.2 732.8h4.9v4.97h-4.9z"/><path fill="#9c179e" d="M1064.4 957h4.9v4.97h-4.9zM1069.2 952.13h4.9v4.97h-4.9zM1074 947.26h4.9v4.97h-4.9zM1078.8 942.38h4.9v4.97h-4.9zM1203.6 815.66h4.9v4.97h-4.9z"/><path fill="#c33d80" d="M1083.6 937.51h4.9v4.97h-4.9z"/><path fill="#b12a90" d="M1088.4 932.63h4.9v4.97h-4.9zM1093.2 927.76h4.9v4.97h-4.9zM1098 922.89h4.9v4.97h-4.9zM1198.8 820.53h4.9v4.97h-4.9z"/><path fill="#5002a2" d="M1098 918.01h4.9v4.97h-4.9zM1107.6 918.01h4.9v4.97h-4.9zM1112.4 903.39h4.9v4.97h-4.9zM1117.2 898.52h4.9v4.97h-4.9zM1122 903.39h4.9v4.97h-4.9zM1122 893.64h4.9v4.97h-4.9zM1126.8 898.52h4.9v4.97h-4.9zM1126.8 888.77h4.9v4.97h-4.9zM1131.6 893.64h4.9v4.97h-4.9zM1131.6 883.89h4.9v4.97h-4.9zM1136.4 888.77h4.9v4.97h-4.9zM1136.4 879.02h4.9v4.97h-4.9zM1141.2 883.89h4.9v4.97h-4.9zM1141.2 874.15h4.9v4.97h-4.9zM1146 879.02h4.9v4.97h-4.9zM1146 869.27h4.9v4.97h-4.9zM1150.8 874.15h4.9v4.97h-4.9zM1150.8 864.4h4.9v4.97h-4.9zM1155.6 869.27h4.9v4.97h-4.9zM1160.4 864.4h4.9v4.97h-4.9zM1170 844.9h4.9v4.97h-4.9zM1174.8 840.03h4.9v4.97h-4.9zM1179.6 844.9h4.9v4.97h-4.9zM1179.6 835.15h4.9v4.97h-4.9zM1184.4 840.03h4.9v4.97h-4.9zM1184.4 830.28h4.9v4.97h-4.9zM1189.2 835.15h4.9v4.97h-4.9zM1194 830.28h4.9v4.97h-4.9zM1213.2 805.91h4.9v4.97h-4.9zM1218 801.04h4.9v4.97h-4.9z"/><path fill="#e16462" d="M1102.8 918.01h4.9v4.97h-4.9zM1117.2 903.39h4.9v4.97h-4.9zM1122 898.52h4.9v4.97h-4.9zM1126.8 893.64h4.9v4.97h-4.9zM1189.2 830.28h4.9v4.97h-4.9z"/><path fill="#d35171" d="M1107.6 913.14h4.9v4.97h-4.9zM1112.4 908.26h4.9v4.97h-4.9zM1194 825.41h4.9v4.97h-4.9z"/><path fill="#ed7953" d="M1131.6 888.77h4.9v4.97h-4.9zM1136.4 883.89h4.9v4.97h-4.9z"/><path fill="#f68f44" d="M1141.2 879.02h4.9v4.97h-4.9zM1179.6 840.03h4.9v4.97h-4.9zM1184.4 835.15h4.9v4.97h-4.9z"/><path fill="#fca636" d="M1146 874.15h4.9v4.97h-4.9zM1150.8 869.27h4.9v4.97h-4.9zM1174.8 844.9h4.9v4.97h-4.9z"/><path fill="#fec029" d="M1155.6 864.4h4.9v4.97h-4.9z"/><path fill="#f9dc24" d="M1160.4 859.52h4.9v4.97h-4.9zM1165.2 854.65h4.9v4.97h-4.9z"/><path fill="#f0f921" d="M1170 849.78h4.9v4.97h-4.9z"/></g></g>
<g class="grid" stroke="#939393" stroke-width="1.0"><line x1="1039.4" y1="732.8" x2="1039.4" y2="976.6"/><line x1="1147.8" y1="732.8" x2="1147.8" y2="976.6"/><line x1="1256.6" y1="732.8" x2="1256.6" y2="976.6"/><line x1="1037.6" y1="811.2" x2="1302.7" y2="811.2"/><line x1="1037.6" y1="898.5" x2="1302.7" y2="898.5"/></g>
<g class="ticks" stroke="#000" stroke-width="1.3"><line x1="1039.4" y1="976.6" x2="1039.4" y2="981.9"/><line x1="1147.8" y1="976.6" x2="1147.8" y2="981.9"/><line x1="1256.6" y1="976.6" x2="1256.6" y2="981.9"/><line x1="1032.3" y1="811.2" x2="1037.6" y2="811.2"/><line x1="1032.3" y1="898.5" x2="1037.6" y2="898.5"/></g>
<rect class="frame" x="1037.6" y="732.8" width="265.1" height="243.8" fill="none" stroke="#000" stroke-width="1.3"/>
<text class="r" x="1064.5" y="793.8" font-size="40.0" fill="#ff0000">0.997</text>
<text class="sym" x="1064.8" y="829.8" font-size="38.6" font-style="italic">P<tspan font-size="28.0" font-style="italic" dx="0.2" dy="7.8">peak</tspan></text>
<text class="lab" x="1236.3" y="952.3" font-size="39.6">(k)</text>
<g class="ticklabels" font-size="26.6"><text x="1039.4" y="1009.6" text-anchor="middle">0.0</text><text x="1147.8" y="1009.6" text-anchor="middle">2.5</text><text x="1256.6" y="1009.6" text-anchor="middle">5.0</text><text x="1025.4" y="821.5" text-anchor="end">4</text><text x="1025.4" y="908.8" text-anchor="end">2</text><text x="1038.1" y="728.6" text-anchor="start">1e4</text><text x="1302.2" y="1038.8" text-anchor="end">1e4</text></g>
<rect class="cbar" x="1319.05" y="732.8" width="12.3" height="243.8" fill="url(#plasma)" stroke="#1a1208" stroke-width="1.5"/>
<g class="cticks" stroke="#000" stroke-width="1.3"><line x1="1331.35" y1="763" x2="1336.35" y2="763"/><line x1="1331.35" y1="871.2" x2="1336.35" y2="871.2"/></g>
<g class="clabels" font-size="33.0"><text x="1342.65" y="776.7">100</text><text x="1342.65" y="884.9">50</text></g>
</g>
<text class="ylabel" transform="translate(33.6 522.5) rotate(-90)" text-anchor="middle" font-size="40.0">NN Prediction</text>
<text class="xlabel" x="974.8" y="1104.5" text-anchor="middle" font-size="40.0">EFIT (Derived) Value</text>
</svg>
</body>
</html>
